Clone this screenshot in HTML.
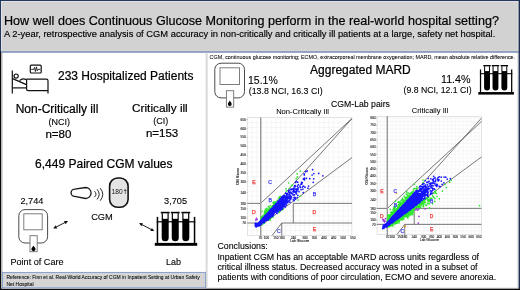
<!DOCTYPE html><html><head><meta charset="utf-8"><style>html,body{margin:0;padding:0;background:#fff}svg{display:block}text{font-family:'Liberation Sans', Arial, sans-serif}</style></head><body>
<svg width="520" height="290" viewBox="0 0 520 290">
<rect x="0" y="0" width="520" height="290" fill="#fff"/>
<rect x="0" y="0" width="520" height="52" fill="#d3d2d2"/>
<rect x="0" y="50.9" width="520" height="2" fill="#8ea0c2"/>
<rect x="205.6" y="52.6" width="2" height="237" fill="#d9d9d9"/>
<rect x="1" y="1" width="517.6" height="0.6" fill="#ededed"/>
<rect x="1" y="1" width="0.6" height="49.5" fill="#ededed"/>
<rect x="517.8" y="1" width="0.7" height="49.5" fill="#ededed"/>
<rect x="0" y="50.3" width="520" height="0.5" fill="#e6e2d8"/>
<rect x="1.3" y="52.8" width="1.6" height="236" fill="#d6d6d6"/>
<rect x="207.6" y="287.6" width="311" height="1.2" fill="#d6d6d6"/>
<rect x="517.3" y="52.8" width="1.3" height="236" fill="#dcdcdc"/>
<rect x="0" y="0" width="520" height="1" fill="#24385f"/>
<rect x="0" y="0" width="1" height="52" fill="#24385f"/>
<rect x="518.6" y="0" width="1.4" height="290" fill="#1f2f50"/>
<rect x="0" y="52" width="1.2" height="238" fill="#0a0a0a"/>
<rect x="0" y="288.7" width="520" height="1.3" fill="#0a0a0a"/>
<text x="4" y="25" font-size="12.6" fill="#000" stroke="#000" stroke-width="0.2">How well does Continuous Glucose Monitoring perform in the real-world hospital setting?</text>
<text x="4" y="36.9" font-size="9.36" fill="#000" stroke="#000" stroke-width="0.15">A 2-year, retrospective analysis of CGM accuracy in non-critically and critically ill patients at a large, safety net hospital.</text>
<text x="58" y="80.2" font-size="12" text-anchor="start" fill="#000" stroke="#000" stroke-width="0.22">233 Hospitalized Patients</text>
<text x="57" y="113.1" font-size="12" text-anchor="middle" fill="#000" stroke="#000" stroke-width="0.22">Non-Critically ill</text>
<text x="59.2" y="125" font-size="9" text-anchor="middle" fill="#000" stroke="#000" stroke-width="0.1">(NCI)</text>
<text x="58.4" y="138.2" font-size="11.5" text-anchor="middle" fill="#000" stroke="#000" stroke-width="0.22">n=80</text>
<text x="159.9" y="111.8" font-size="11.8" text-anchor="middle" fill="#000" stroke="#000" stroke-width="0.22">Critically ill</text>
<text x="160.7" y="124.3" font-size="9" text-anchor="middle" fill="#000" stroke="#000" stroke-width="0.1">(CI)</text>
<text x="162.1" y="137.4" font-size="11.5" text-anchor="middle" fill="#000" stroke="#000" stroke-width="0.22">n=153</text>
<text x="103.8" y="168" font-size="12" text-anchor="middle" fill="#000" stroke="#000" stroke-width="0.22">6,449 Paired CGM values</text>
<text x="31.9" y="203.6" font-size="9.2" text-anchor="middle" fill="#000" stroke="#000" stroke-width="0.1">2,744</text>
<text x="175.6" y="203.6" font-size="9.2" text-anchor="middle" fill="#000" stroke="#000" stroke-width="0.1">3,705</text>
<text x="102" y="219.8" font-size="9.3" text-anchor="middle" fill="#000" stroke="#000" stroke-width="0.1">CGM</text>
<text x="37" y="264.8" font-size="9.1" text-anchor="middle" fill="#000" stroke="#000" stroke-width="0.1">Point of Care</text>
<text x="173.5" y="264.6" font-size="9.0" text-anchor="middle" fill="#000" stroke="#000" stroke-width="0.1">Lab</text>
<g fill="none" stroke="#111" stroke-width="1.2">
<path d="M12.3 70.4V93.4"/>
<path d="M12.3 87.9H26.6"/>
<circle cx="16.1" cy="76.1" r="2.1"/>
<path d="M12.6 78.6L26.4 84.6"/>
<path d="M19.6 80.6Q22.2 77.6 26.4 79.6"/>
<path d="M26.6 79.2H46.4Q48 79.2 48 80.8V93.5"/>
<path d="M26.6 79.2V89.2Q26.6 90.6 28 90.6H48"/>
<rect x="30.3" y="65.1" width="10.9" height="7.9" rx="1" ry="1"/>
<path d="M31.2 69.4H33.7L34.5 67.4L35.4 71.6L36.4 66.9L37.3 70.8L37.9 69.4H40.3" stroke-width="0.85"/>
</g>
<g fill="none" stroke="#1a1a1a">
<path d="M74.7 189.2L85.6 187.5A5.5 5.5 0 0 1 85.6 198.5L74.7 196.4A3.6 3.6 0 0 1 74.7 189.2Z" stroke-width="1.3"/>
<path d="M94.4 191.1Q97.6 194.1 94.4 197.2" stroke-width="0.95"/>
<path d="M97.1 189.3Q101.3 194.3 97.1 199.4" stroke-width="0.95"/>
<path d="M100.2 188.1Q105.4 194.4 100.2 200.7" stroke-width="0.95"/>
<rect x="109.6" y="178" width="18.5" height="29.3" rx="8" ry="8" fill="#e4e4e4" stroke="#111" stroke-width="1.6"/>
</g>
<text x="111.6" y="194.3" font-size="6.6" fill="#111">180<tspan font-family="DejaVu Sans" font-size="6.4">↑</tspan></text>
<rect x="18.80" y="209.60" width="28.80" height="33.40" rx="6.2" ry="6.2" fill="#fff" stroke="#4a4a4a" stroke-width="1.0"/><rect x="23.80" y="213.80" width="18.40" height="16.00" fill="#fff" stroke="#777" stroke-width="0.95"/><rect x="30.00" y="235.70" width="7.20" height="16.00" fill="#fff" stroke="#777" stroke-width="0.95"/><path d="M33.50 245.40C34.00 246.60 35.60 247.70 35.60 249.10A2.10 2.10 0 0 1 31.40 249.10C31.40 247.70 33.00 246.60 33.50 245.40Z" fill="#000"/>
<rect x="214.80" y="63.20" width="29.70" height="34.70" rx="6.2" ry="6.2" fill="#fff" stroke="#4a4a4a" stroke-width="1.0"/><rect x="220.00" y="67.80" width="19.50" height="16.70" fill="#fff" stroke="#777" stroke-width="0.95"/><rect x="226.40" y="90.70" width="7.30" height="16.40" fill="#fff" stroke="#777" stroke-width="0.95"/><path d="M229.80 100.40C230.30 101.60 231.70 102.70 231.70 104.10A1.90 1.90 0 0 1 227.90 104.10C227.90 102.70 229.30 101.60 229.80 100.40Z" fill="#000"/>
<g transform="translate(154.8 211.8) scale(1.0 1.0)"><rect x="0" y="31.1" width="42.4" height="2.9" fill="#000"/><rect x="1.9" y="5.1" width="1.5" height="26.5" fill="#000"/><rect x="39" y="5.1" width="1.5" height="26.5" fill="#000"/><rect x="6.00" y="0" width="8.8" height="1.6" fill="#000"/><path d="M6.90 1.5V25.9A3.5 3.5 0 0 0 13.90 25.9V1.5Z" fill="#000"/><rect x="8.10" y="1.6" width="4.6" height="5.4" fill="#fff"/><rect x="16.05" y="0" width="8.8" height="1.6" fill="#000"/><path d="M16.95 1.5V25.9A3.5 3.5 0 0 0 23.95 25.9V1.5Z" fill="#000"/><rect x="18.15" y="1.6" width="4.6" height="5.4" fill="#fff"/><rect x="26.60" y="0" width="8.8" height="1.6" fill="#000"/><path d="M27.50 1.5V25.9A3.5 3.5 0 0 0 34.50 25.9V1.5Z" fill="#000"/><rect x="28.70" y="1.6" width="4.6" height="5.4" fill="#fff"/><rect x="1.9" y="9.4" width="38.6" height="1.2" fill="#000"/></g>
<g transform="translate(478.3 65.0) scale(0.84 0.87)"><rect x="0" y="31.1" width="42.4" height="2.9" fill="#000"/><rect x="1.9" y="5.1" width="1.5" height="26.5" fill="#000"/><rect x="39" y="5.1" width="1.5" height="26.5" fill="#000"/><rect x="6.00" y="0" width="8.8" height="1.6" fill="#000"/><path d="M6.90 1.5V25.9A3.5 3.5 0 0 0 13.90 25.9V1.5Z" fill="#000"/><rect x="8.10" y="1.6" width="4.6" height="5.4" fill="#fff"/><rect x="16.05" y="0" width="8.8" height="1.6" fill="#000"/><path d="M16.95 1.5V25.9A3.5 3.5 0 0 0 23.95 25.9V1.5Z" fill="#000"/><rect x="18.15" y="1.6" width="4.6" height="5.4" fill="#fff"/><rect x="26.60" y="0" width="8.8" height="1.6" fill="#000"/><path d="M27.50 1.5V25.9A3.5 3.5 0 0 0 34.50 25.9V1.5Z" fill="#000"/><rect x="28.70" y="1.6" width="4.6" height="5.4" fill="#fff"/><rect x="1.9" y="9.4" width="38.6" height="1.2" fill="#000"/></g>
<path d="M55.45 227.36L65.75 222.14" stroke="#111" stroke-width="0.95"/><path d="M68.00 221.00L65.58 224.19L64.00 221.07Z" fill="#111"/><path d="M53.20 228.50L57.20 228.43L55.62 225.31Z" fill="#111"/>
<path d="M141.23 224.27L152.07 229.93" stroke="#111" stroke-width="0.95"/><path d="M154.30 231.10L150.30 230.98L151.92 227.88Z" fill="#111"/><path d="M139.00 223.10L141.38 226.32L143.00 223.22Z" fill="#111"/>
<rect x="2.4" y="272.4" width="203" height="15.4" fill="#d6d5d5" stroke="#7d97c9" stroke-width="0.9"/>
<text x="6.4" y="279.4" font-size="5.0" text-anchor="start" fill="#000" stroke="#000" stroke-width="0.06">Reference: Finn et al. Real-World Accuracy of CGM in Inpatient Setting at Urban Safety</text>
<text x="6.4" y="285.5" font-size="5.0" text-anchor="start" fill="#000" stroke="#000" stroke-width="0.06">Net Hospital</text>
<text x="209.6" y="59.2" font-size="5.4" text-anchor="start" fill="#000" stroke="#000" stroke-width="0.06">CGM, continuous glucose monitoring; ECMO, extracorporeal membrane oxygenation; MARD, mean absolute relative difference.</text>
<text x="360.4" y="73.9" font-size="12" text-anchor="middle" fill="#000" stroke="#000" stroke-width="0.22">Aggregated MARD</text>
<text x="248" y="84.2" font-size="10.5" text-anchor="start" fill="#000" stroke="#000" stroke-width="0.1">15.1%</text>
<text x="248.8" y="94.2" font-size="8.8" text-anchor="start" fill="#000" stroke="#000" stroke-width="0.1">(13.8 NCI, 16.3 CI)</text>
<text x="470.5" y="82.5" font-size="10.7" text-anchor="end" fill="#000" stroke="#000" stroke-width="0.1">11.4%</text>
<text x="471.6" y="93.4" font-size="8.7" text-anchor="end" fill="#000" stroke="#000" stroke-width="0.1">(9.8 NCI, 12.1 CI)</text>
<text x="360.5" y="106.5" font-size="8.7" text-anchor="middle" fill="#000" stroke="#000" stroke-width="0.1">CGM-Lab pairs</text>
<text x="302.5" y="113.5" font-size="7.6" text-anchor="middle" fill="#000" stroke="#000" stroke-width="0.06">Non-Critically Ill</text>
<text x="430" y="112.8" font-size="7.6" text-anchor="middle" fill="#000" stroke="#000" stroke-width="0.06">Critically Ill</text>
<text x="217.4" y="248.9" font-size="8.8" text-anchor="start" fill="#000" stroke="#000" stroke-width="0.1">Conclusions:</text>
<text x="217.4" y="259.7" font-size="8.8" text-anchor="start" fill="#000" stroke="#000" stroke-width="0.1">Inpatient CGM has an acceptable MARD across units regardless of</text>
<text x="217.4" y="269.8" font-size="8.8" text-anchor="start" fill="#000" stroke="#000" stroke-width="0.1">critical illness status. Decreased accuracy was noted in a subset of</text>
<text x="217.4" y="279.9" font-size="8.8" text-anchor="start" fill="#000" stroke="#000" stroke-width="0.1">patients with conditions of poor circulation, ECMO and severe anorexia.</text>
<rect x="247.5" y="117.7" width="104.40" height="117.80" fill="#fff" stroke="#d0d0d0" stroke-width="0.6"/>
<path d="M252.00 117.7V235.5M256.80 117.7V235.5M261.60 117.7V235.5M266.40 117.7V235.5M271.20 117.7V235.5M276.00 117.7V235.5M280.80 117.7V235.5M285.60 117.7V235.5M290.40 117.7V235.5M295.20 117.7V235.5M300.00 117.7V235.5M304.80 117.7V235.5M309.60 117.7V235.5M314.40 117.7V235.5M319.20 117.7V235.5M324.00 117.7V235.5M328.80 117.7V235.5M333.60 117.7V235.5M338.40 117.7V235.5M343.20 117.7V235.5M348.00 117.7V235.5M247.5 230.59H351.9M247.5 225.68H351.9M247.5 220.77H351.9M247.5 215.87H351.9M247.5 210.96H351.9M247.5 206.05H351.9M247.5 201.14H351.9M247.5 196.23H351.9M247.5 191.32H351.9M247.5 186.41H351.9M247.5 181.50H351.9M247.5 176.59H351.9M247.5 171.69H351.9M247.5 166.78H351.9M247.5 161.87H351.9M247.5 156.96H351.9M247.5 152.05H351.9M247.5 147.14H351.9M247.5 142.23H351.9M247.5 137.32H351.9M247.5 132.42H351.9M247.5 127.51H351.9M247.5 122.60H351.9" stroke="#eeeeee" stroke-width="0.5" fill="none"/>
<path d="M247.50 223.00L258.40 223.00M258.40 223.00L351.90 118.69M260.64 220.51L260.64 117.70M247.50 203.37L260.64 203.37M260.64 203.37L351.90 118.53M260.64 235.50L260.64 225.50M260.64 225.50L351.90 157.63M281.76 235.50L281.76 223.00M281.76 223.00L351.90 223.00M293.28 223.00L293.28 203.37M293.28 203.37L351.90 203.37M272.16 235.50L281.76 223.00" stroke="#555" stroke-width="0.8" fill="none"/>
<path d="M260.64 117.7V235.5" stroke="#999" stroke-width="1.3" fill="none"/>
<path d="M264.8 210.9h0M272.3 206.2h0M261.9 218.4h0M270.3 209.2h0M266.8 210.1h0M274.5 203.5h0M262.1 217.5h0M265.7 214.7h0M264.1 214.6h0M270.2 219.9h0M265.4 212.6h0M265.2 211.7h0M268.1 211.2h0M267.6 212.6h0M268.3 206.5h0M263.6 216.2h0M271.3 208.3h0M262.5 218.3h0M262.9 217.9h0M262.9 216.2h0M297.1 173.8h0M275.1 203.4h0M261.7 224.9h0M265.7 214.6h0M266.6 212.0h0M276.7 202.3h0M275.4 203.1h0M260.8 219.6h0M266.1 212.6h0M273.7 205.1h0M269.1 210.1h0M264.2 216.1h0M263.1 217.2h0M271.6 207.1h0M265.3 214.3h0M267.2 212.7h0M268.6 210.0h0M261.0 220.0h0M272.6 206.8h0M265.3 213.9h0M274.5 204.4h0M269.5 208.8h0M262.9 216.8h0M261.9 217.6h0M261.2 217.0h0M270.3 208.8h0M278.7 198.1h0M270.2 205.5h0M269.4 208.7h0M262.1 211.3h0M283.1 209.2h0M275.6 202.0h0M273.0 202.8h0M269.4 220.1h0M265.5 213.5h0M262.5 217.9h0M265.6 214.7h0M261.1 219.5h0M273.8 205.5h0M266.0 214.0h0M264.4 212.9h0M279.5 197.0h0M262.9 217.3h0M266.3 213.0h0M271.4 217.8h0M262.7 216.5h0M272.5 205.7h0M296.3 178.7h0M261.8 218.3h0M268.0 211.9h0M268.2 210.7h0M260.8 220.3h0M268.4 211.1h0M260.8 219.1h0M271.3 207.2h0M260.9 219.7h0M265.5 214.6h0M297.4 176.9h0M268.2 210.3h0M269.0 208.9h0M273.0 206.6h0M264.1 214.9h0M264.5 214.7h0M277.3 200.3h0M265.1 212.1h0M266.4 210.4h0M266.6 212.3h0M272.5 207.3h0M262.3 218.5h0M282.3 209.7h0M263.4 217.1h0M281.9 209.8h0M275.9 203.0h0M262.6 216.2h0M286.0 188.8h0M274.4 204.0h0M267.8 209.8h0M272.5 206.2h0M267.4 211.4h0M264.4 215.3h0M264.3 216.3h0M265.5 209.1h0M261.9 219.0h0M269.3 208.0h0M268.7 210.3h0M265.5 214.9h0M271.4 207.9h0M261.5 216.8h0M271.5 217.5h0M264.4 216.3h0M269.2 209.5h0M266.8 213.4h0M261.0 219.9h0M271.1 208.7h0M265.2 214.3h0M264.6 222.9h0M272.1 206.7h0M279.0 212.0h0M264.6 212.5h0M265.8 213.5h0M267.7 212.4h0M270.9 208.4h0M261.2 219.1h0M275.8 203.1h0M300.4 171.2h0M261.1 219.5h0M266.9 212.9h0M280.5 196.3h0M273.2 217.1h0M288.6 183.0h0M298.1 200.0h0M292.4 185.1h0M265.9 214.1h0M266.0 213.7h0M263.8 223.6h0M268.9 209.3h0M266.3 213.9h0M279.3 198.8h0M267.6 210.7h0M266.5 210.8h0M269.4 219.0h0M269.7 209.5h0M273.9 203.7h0M275.0 202.0h0M261.0 219.3h0M261.1 219.3h0M264.3 215.0h0M300.4 196.0h0M279.0 212.4h0M261.9 218.5h0M265.6 214.6h0M260.8 218.7h0M268.5 219.8h0M265.4 214.7h0M266.5 213.3h0M263.0 217.8h0M269.9 219.3h0M265.3 215.0h0M286.5 191.1h0M268.0 211.4h0M291.5 185.6h0M266.0 214.4h0M279.7 198.0h0M279.4 198.3h0M266.9 212.0h0M263.5 216.1h0M268.1 211.6h0M271.0 207.8h0M270.2 209.8h0M268.0 212.2h0M266.9 208.4h0M267.5 211.1h0M261.9 218.0h0M274.1 201.8h0M265.6 212.5h0M269.3 207.4h0M267.4 212.5h0M265.0 214.7h0M262.9 216.4h0M268.4 210.3h0M266.2 214.2h0M266.6 213.7h0M279.1 198.9h0M263.9 216.4h0M260.6 220.3h0M279.7 211.7h0M264.5 214.9h0M262.7 217.1h0M261.8 218.1h0M289.3 188.3h0M264.0 216.4h0" stroke="#2ee62e" stroke-width="1.7" stroke-linecap="round" fill="none"/>
<path d="M274.8 207.7h0M280.5 204.4h0M274.6 211.8h0M261.5 221.0h0M281.7 202.2h0M275.9 207.4h0M266.6 214.6h0M277.5 206.4h0M275.0 208.1h0M274.2 211.3h0M271.5 214.1h0M277.1 209.5h0M265.1 216.6h0M269.7 211.7h0M267.0 215.9h0M277.7 207.2h0M271.6 210.3h0M268.6 214.7h0M268.9 214.0h0M271.3 213.5h0M268.7 217.2h0M287.5 197.2h0M283.1 197.7h0M255.3 225.6h0M269.6 214.8h0M267.5 215.5h0M273.3 211.9h0M273.4 212.2h0M303.2 192.7h0M262.6 221.2h0M267.8 219.3h0M301.5 182.3h0M278.3 206.6h0M278.5 206.4h0M266.7 217.1h0M272.9 212.9h0M265.5 218.5h0M270.5 212.8h0M263.6 217.4h0M272.1 213.3h0M271.5 212.5h0M277.6 203.4h0M281.5 199.5h0M264.5 216.8h0M279.4 206.4h0M266.8 219.3h0M281.3 199.8h0M262.8 221.0h0M281.8 200.7h0M271.0 216.3h0M261.8 220.7h0M268.4 213.1h0M271.7 215.5h0M274.0 211.1h0M263.4 220.2h0M262.6 219.2h0M273.2 214.7h0M267.1 216.1h0M273.6 206.2h0M279.7 199.3h0M273.8 207.8h0M286.4 200.7h0M268.5 213.9h0M264.6 216.2h0M279.6 204.7h0M273.8 206.0h0M281.5 205.2h0M268.1 215.4h0M260.5 223.4h0M270.2 215.2h0M267.3 213.3h0M279.9 205.4h0M273.1 207.5h0M281.4 206.4h0M278.7 203.4h0M265.8 215.6h0M271.2 209.2h0M275.9 203.7h0M276.1 209.3h0M281.3 209.3h0M273.8 211.7h0M270.3 209.9h0M268.8 216.8h0M283.8 206.3h0M257.0 226.1h0M269.9 216.3h0M271.5 209.4h0M260.8 221.7h0M274.6 210.1h0M281.1 200.3h0M270.0 211.0h0M278.6 208.5h0M286.3 205.1h0M275.2 207.3h0M260.3 221.9h0M295.6 191.9h0M272.6 211.4h0M269.4 217.2h0M280.9 203.0h0M271.5 213.6h0M271.3 210.1h0M276.2 210.1h0M263.1 218.1h0M278.5 205.7h0M291.4 197.0h0M256.1 223.4h0M277.9 204.8h0M313.7 178.8h0M263.3 218.3h0M261.8 219.4h0M277.6 203.6h0M264.3 219.8h0M266.8 215.8h0M276.9 206.8h0M274.0 209.2h0M269.6 213.3h0M264.3 219.1h0M262.7 220.5h0M290.2 199.7h0M270.7 213.2h0M270.7 216.3h0M276.6 210.0h0M267.5 214.1h0M269.1 218.4h0M275.6 212.0h0M274.1 210.1h0M262.3 220.1h0M280.7 203.3h0M266.2 218.1h0M263.9 222.6h0M267.7 214.6h0M293.2 199.8h0M262.2 220.9h0M272.8 210.1h0M271.2 214.1h0M281.6 208.7h0M269.0 211.7h0M265.9 216.3h0M273.5 209.5h0M279.0 203.1h0M278.5 202.7h0M300.0 186.1h0M273.3 214.8h0M266.1 217.6h0M270.0 213.4h0M270.5 215.4h0M272.3 213.7h0M270.9 210.5h0M272.9 210.1h0M259.5 223.7h0M280.6 201.7h0M266.3 216.4h0M262.2 222.0h0M278.2 206.8h0M287.8 202.7h0M276.4 209.7h0M272.8 209.4h0M263.7 220.3h0M322.9 175.8h0M281.3 202.8h0M262.4 221.2h0M264.8 218.0h0M272.0 212.1h0M260.1 221.8h0M272.9 209.4h0M267.2 216.6h0M286.4 201.0h0M282.5 203.0h0M255.3 224.6h0M271.6 208.6h0M259.8 221.5h0M284.6 195.4h0M272.9 208.7h0M277.1 209.9h0M301.0 184.1h0M262.9 221.8h0M265.5 216.3h0M271.0 213.0h0M297.8 190.0h0M263.5 219.8h0M268.5 214.8h0M276.5 208.3h0M269.0 214.5h0M266.4 215.7h0M270.0 218.0h0M262.2 220.7h0M267.3 214.9h0M269.3 215.4h0M268.2 214.7h0M271.8 211.2h0M268.5 213.6h0M279.6 204.6h0M268.3 214.5h0M269.9 216.9h0M265.6 217.2h0M261.7 220.7h0M262.4 219.3h0M265.0 217.0h0M274.9 208.0h0M267.7 215.6h0M257.9 224.0h0M275.6 207.3h0M273.8 208.3h0M279.9 210.0h0M265.3 215.8h0M262.5 219.0h0M272.1 211.5h0M269.5 214.7h0M273.2 209.3h0M259.8 221.7h0M296.7 191.6h0M260.2 222.0h0M277.9 210.6h0M268.0 216.8h0M274.5 212.0h0M268.2 217.7h0M270.6 209.7h0M265.0 219.9h0M278.7 201.6h0M267.1 217.0h0M264.1 219.2h0M272.0 216.0h0M275.9 208.8h0M278.0 204.8h0M259.1 222.9h0M261.1 222.2h0M271.5 211.5h0M270.7 211.9h0M281.6 205.4h0M263.8 220.0h0M265.9 218.8h0M274.6 209.2h0M256.2 225.0h0M265.1 219.4h0M281.1 208.4h0M270.8 215.3h0M278.0 208.4h0M281.0 208.9h0M276.3 206.7h0M263.9 217.3h0M275.8 211.4h0M273.2 214.2h0M265.5 216.8h0M269.1 214.1h0M264.1 218.5h0M283.0 204.7h0M280.0 207.2h0M272.5 211.1h0M273.9 206.4h0M264.7 220.5h0M278.6 204.2h0M296.2 190.9h0M268.4 213.5h0M266.1 220.3h0M269.7 214.1h0M267.0 217.5h0M272.6 211.7h0M268.6 216.2h0M289.9 192.6h0M271.2 210.7h0M282.3 198.7h0M268.5 213.1h0M289.8 198.5h0M265.8 215.7h0M264.6 216.5h0M267.9 214.5h0M270.1 211.1h0M260.9 220.7h0M270.9 213.9h0M259.5 222.6h0M289.1 200.5h0M270.4 214.9h0M265.8 215.4h0M263.9 218.9h0M267.8 213.6h0M269.2 214.3h0M263.0 222.1h0M263.8 219.5h0M266.7 216.7h0M282.1 206.1h0M285.0 198.0h0M271.4 213.9h0M276.2 210.4h0M261.3 223.1h0M278.2 211.6h0M270.9 211.5h0M276.3 207.1h0M292.7 193.8h0M256.8 224.3h0M273.8 211.6h0M262.7 218.9h0M277.6 209.8h0M261.4 222.5h0M266.9 217.1h0M273.2 208.1h0M277.9 204.6h0M271.9 213.9h0M264.7 218.4h0M266.4 216.2h0M281.4 206.4h0M271.1 209.8h0M259.4 223.1h0M280.8 205.4h0M275.5 209.6h0M281.2 208.6h0M268.2 218.5h0M280.6 206.7h0M277.3 205.3h0M266.9 214.7h0M278.6 208.3h0M283.1 203.8h0M265.1 216.6h0M270.7 211.9h0M271.6 214.6h0M285.8 202.2h0M279.1 207.5h0M276.0 210.1h0M279.5 207.0h0M303.3 179.1h0M259.5 222.6h0M266.6 214.0h0M288.1 201.6h0M262.1 219.5h0M276.7 206.5h0M283.3 202.5h0M265.6 217.0h0M277.0 207.0h0M272.3 212.1h0M291.3 189.6h0M271.2 216.2h0M282.9 206.8h0M263.9 219.5h0M269.5 213.1h0M285.1 197.8h0M277.5 207.1h0M265.0 219.0h0M279.9 200.1h0M268.8 217.3h0M259.4 222.3h0M273.1 213.2h0M273.6 210.7h0M264.2 217.6h0M279.5 206.8h0M261.1 222.3h0M266.4 217.2h0M267.0 218.5h0M300.3 187.4h0M259.9 224.3h0M277.3 206.6h0M282.2 204.0h0M275.1 206.1h0M285.7 202.8h0M263.3 221.5h0M256.8 225.7h0M279.8 203.7h0M268.3 218.2h0M262.2 221.3h0M283.8 195.9h0M281.1 201.0h0M265.2 216.0h0M281.6 201.4h0M272.4 210.0h0M269.9 213.5h0M271.8 214.4h0M269.3 213.4h0M277.9 209.7h0M274.4 207.5h0M268.1 219.9h0M266.0 216.1h0M274.1 210.3h0M290.6 199.2h0M266.8 215.2h0M295.4 199.2h0M277.5 208.2h0M271.7 216.2h0M262.6 221.5h0M266.4 216.2h0M265.5 218.7h0M284.3 201.1h0M288.8 197.9h0M281.2 200.6h0M274.9 207.5h0M267.4 217.4h0M271.7 214.6h0M281.4 204.6h0M303.5 186.2h0M281.8 201.7h0M268.7 216.2h0M271.6 212.0h0M267.0 217.9h0M264.8 216.3h0M269.5 213.0h0M273.2 210.9h0M297.2 197.6h0M271.7 209.2h0M288.5 201.0h0M295.9 193.1h0M272.0 211.9h0M292.9 191.3h0M279.1 208.0h0M267.5 216.9h0M273.9 213.8h0M271.4 209.5h0M269.1 214.9h0M269.4 215.0h0M272.6 215.9h0M275.8 209.5h0M264.0 217.4h0M271.1 209.9h0M260.3 222.1h0M273.8 210.3h0M278.0 205.3h0M272.8 215.1h0M274.1 211.7h0M277.6 204.9h0M269.0 217.3h0M276.6 210.6h0M283.0 198.1h0M275.3 209.7h0M313.8 173.6h0M270.3 216.6h0M283.0 198.5h0M287.0 197.3h0M269.9 210.5h0M264.5 219.3h0M262.2 221.3h0M272.8 214.5h0M284.6 205.5h0M274.0 212.4h0M272.9 211.2h0M267.8 217.4h0M277.2 208.0h0M257.4 224.7h0M273.5 209.8h0M271.5 210.3h0M304.5 179.8h0M261.0 221.4h0M262.8 218.1h0M262.0 220.8h0M284.6 204.5h0M264.0 221.3h0M278.6 206.4h0M277.6 206.4h0M261.4 221.9h0M294.1 200.6h0M261.5 219.9h0M269.7 213.5h0M280.4 208.7h0M273.7 213.9h0M282.2 205.4h0M277.3 209.1h0M259.9 225.4h0M291.6 197.5h0M307.2 170.9h0M264.8 221.4h0M271.7 209.2h0M289.2 194.1h0M258.0 224.1h0M261.5 219.8h0M266.2 215.2h0M277.8 203.9h0M273.9 210.3h0M261.8 220.6h0M277.3 208.6h0M298.0 189.3h0M285.9 199.3h0M282.9 204.0h0M282.8 207.7h0M263.5 218.7h0M279.6 201.3h0M270.4 215.3h0M284.9 202.0h0M276.1 207.4h0M286.3 198.0h0M262.5 219.4h0M266.4 218.5h0M264.8 216.8h0M260.4 221.9h0M282.5 201.6h0M287.7 201.5h0M280.3 201.2h0M273.6 211.5h0M270.7 216.0h0M273.6 210.3h0M265.1 219.9h0M281.5 201.2h0M283.7 197.4h0M282.1 200.8h0M266.6 217.0h0M272.0 214.5h0M269.7 214.9h0M273.0 208.5h0M258.5 224.5h0M275.3 211.4h0M298.2 187.7h0M278.8 205.7h0M281.3 203.3h0M271.5 210.2h0M258.1 224.0h0M258.8 225.3h0M270.0 212.0h0M274.4 211.1h0M278.8 205.7h0M268.1 212.8h0M282.4 201.8h0M268.7 215.7h0M265.3 219.7h0M280.9 201.6h0M263.8 220.9h0M255.3 223.7h0M262.9 220.7h0M272.1 213.3h0M260.5 224.9h0M267.1 215.6h0M266.5 220.6h0M286.9 201.3h0M275.1 205.4h0M264.3 218.4h0M279.0 205.1h0M298.4 184.7h0M275.2 209.7h0M274.4 209.9h0M297.7 182.2h0M271.0 211.2h0M260.8 221.0h0M266.7 215.1h0M304.6 178.3h0M272.5 212.7h0M281.4 204.3h0M269.0 216.9h0M279.3 204.6h0M279.2 207.6h0M275.9 212.3h0M294.9 189.0h0M280.0 199.4h0M268.4 217.4h0M264.3 217.4h0M276.2 210.6h0M268.3 216.0h0M318.7 173.4h0M269.2 213.4h0M294.4 194.9h0M267.2 214.3h0M282.3 204.2h0M263.9 219.8h0M267.0 215.1h0M268.1 218.1h0M278.5 205.9h0M272.6 214.4h0M275.4 207.8h0M277.7 205.6h0M271.5 210.3h0M284.6 199.8h0M265.1 217.0h0M260.7 222.1h0M259.0 223.9h0M259.7 223.8h0M266.5 217.5h0M283.4 203.9h0M272.9 210.0h0M266.1 217.4h0M262.8 221.3h0M266.6 215.0h0M267.6 216.7h0M266.3 218.7h0M260.7 222.2h0M267.0 216.0h0M283.3 202.0h0M257.3 223.5h0M257.5 224.1h0M265.0 217.0h0M257.6 223.8h0M272.2 216.5h0M296.9 191.6h0M272.3 209.6h0M285.4 203.3h0M270.5 217.2h0M257.3 226.1h0M276.4 207.9h0M267.5 215.6h0M280.1 206.0h0M274.1 206.8h0M266.7 218.9h0M281.2 204.4h0M278.2 206.7h0M263.7 218.4h0M276.9 210.6h0M262.7 221.0h0M290.7 197.8h0M273.8 212.8h0M289.8 197.8h0M267.0 215.7h0M280.8 202.9h0M255.2 223.5h0M262.9 218.9h0M283.5 202.7h0M276.1 210.2h0M282.7 197.0h0M268.4 212.8h0M261.1 222.4h0M266.5 215.7h0M265.9 216.5h0M258.0 225.5h0M274.1 212.2h0M266.2 215.5h0M264.1 219.6h0M256.7 223.6h0M301.1 189.7h0M262.7 220.5h0M294.3 186.7h0M292.0 193.6h0M274.0 206.1h0M266.3 217.6h0M273.8 206.3h0M271.2 209.5h0M276.9 211.4h0M295.2 185.7h0M267.7 216.1h0M283.6 202.6h0M264.7 219.3h0M264.0 219.5h0M265.9 216.2h0M282.7 203.6h0M287.1 196.7h0M271.0 211.8h0M274.0 211.1h0M266.2 219.3h0M262.3 222.4h0M273.9 211.7h0M277.5 207.5h0M269.5 215.2h0M265.9 219.4h0M266.6 216.8h0M262.8 222.1h0M282.3 207.1h0M277.3 205.0h0M285.7 193.2h0M272.5 210.8h0M261.5 222.8h0M267.8 217.6h0M262.1 220.1h0M275.9 208.3h0M266.0 216.7h0M273.1 214.2h0M260.6 223.0h0M273.0 213.2h0M266.4 217.7h0M272.7 212.2h0M279.7 206.7h0M273.2 207.5h0M293.8 188.4h0M263.2 218.1h0M258.9 223.3h0M281.9 199.2h0M282.1 209.2h0M264.9 217.7h0M270.5 209.8h0M267.9 218.7h0M257.1 225.0h0M268.8 214.3h0M257.4 224.4h0M268.8 213.8h0M290.7 192.0h0M268.5 213.0h0M279.4 206.8h0M263.8 220.6h0M260.2 222.5h0M283.0 196.2h0M270.3 210.6h0M292.4 189.2h0M268.8 215.8h0M271.5 211.8h0M288.7 192.1h0M296.1 181.4h0M265.4 220.3h0M262.2 220.5h0M287.4 193.6h0M269.9 216.3h0M265.4 215.4h0M270.2 214.6h0M255.7 224.7h0M259.0 222.4h0M281.4 197.7h0M274.7 211.4h0M272.2 209.7h0M262.9 219.7h0M276.9 208.8h0M295.1 186.7h0M261.6 221.6h0M270.8 211.1h0M266.9 217.7h0M274.3 212.4h0M270.8 210.8h0M263.7 217.9h0M270.5 214.2h0M265.6 216.2h0M269.4 214.7h0M270.1 214.9h0M277.7 206.2h0M265.8 215.4h0M267.8 212.9h0M283.3 205.7h0M268.4 215.0h0M280.4 209.9h0M273.4 211.7h0M271.6 211.4h0M272.8 213.2h0M261.5 219.9h0M275.5 212.0h0M287.1 193.7h0M276.9 207.0h0M259.8 221.7h0M273.6 206.7h0M263.6 220.7h0M268.7 213.8h0M272.0 210.0h0M261.8 219.6h0M287.4 197.5h0M270.2 210.2h0M279.6 207.0h0M277.6 206.6h0M287.6 201.9h0M285.2 200.9h0M260.3 223.5h0M271.2 214.7h0M257.3 225.0h0M267.0 217.8h0M278.7 203.6h0M281.3 200.1h0M286.8 195.8h0M267.6 213.3h0M274.1 208.4h0M271.8 214.4h0M286.5 204.1h0M291.9 193.0h0M267.7 216.9h0M270.9 214.8h0M267.7 215.0h0M277.3 206.1h0M279.3 209.2h0M276.7 207.0h0M290.0 195.3h0M291.1 196.3h0M288.7 191.1h0M263.3 217.7h0M263.1 218.1h0M273.5 207.2h0M273.7 212.7h0M275.4 211.7h0M289.0 196.5h0M261.2 221.3h0M273.5 210.8h0M269.8 211.4h0M269.2 214.5h0M295.6 182.4h0M287.0 200.8h0M280.7 205.5h0M264.8 216.6h0M305.7 171.7h0M274.8 208.2h0M266.1 216.7h0M268.0 215.7h0M302.9 189.1h0M273.1 211.0h0M271.7 213.5h0M279.3 208.4h0M262.8 221.6h0M262.4 219.0h0M277.7 205.5h0M264.1 220.2h0M280.6 206.8h0M284.6 203.6h0M258.9 223.4h0M269.8 215.5h0M270.5 212.0h0M281.6 197.8h0M296.3 189.4h0M268.3 212.7h0M262.1 221.4h0M269.9 216.9h0M279.9 203.1h0M260.9 222.5h0M261.0 222.4h0M285.8 198.8h0M272.6 211.2h0M267.3 216.1h0M283.3 203.3h0M261.4 221.1h0M267.6 214.1h0M297.1 188.9h0M269.9 213.2h0M288.2 198.3h0M272.9 215.4h0M268.8 212.3h0M271.8 214.9h0M267.4 217.0h0M264.3 222.4h0M260.3 222.8h0M275.1 208.0h0M279.3 204.8h0M258.8 222.7h0M280.0 202.4h0M270.8 211.7h0M260.6 222.0h0M271.9 213.9h0M280.2 201.4h0M276.5 209.7h0M281.9 200.8h0M281.2 201.9h0M270.7 209.4h0M257.5 224.3h0M264.8 217.8h0M274.6 209.4h0M266.9 216.7h0M278.5 204.9h0M279.9 206.6h0M271.5 214.7h0M297.7 189.9h0M263.3 218.4h0M281.8 202.3h0M266.9 214.4h0M277.3 206.6h0M280.8 205.1h0M262.1 220.0h0M271.4 209.6h0M264.2 219.9h0M268.9 213.7h0M267.7 213.7h0M262.4 221.7h0M278.2 208.8h0M261.7 221.3h0M263.3 219.2h0M281.2 200.9h0M282.4 207.5h0M278.3 201.2h0M274.5 207.6h0M306.5 178.3h0M261.9 223.7h0M264.9 216.0h0M263.2 220.1h0M281.3 200.1h0M273.9 210.4h0M284.4 202.7h0M282.4 205.5h0M269.0 214.4h0M264.4 216.5h0M263.2 221.3h0M305.0 187.2h0M282.3 203.0h0M277.4 207.7h0M268.0 215.4h0M269.2 215.2h0M268.0 214.6h0M268.2 219.2h0M256.3 223.9h0M270.5 216.1h0M274.0 207.3h0M273.1 215.4h0M280.8 203.9h0M280.0 199.8h0M255.8 225.4h0M262.6 220.6h0M294.8 185.7h0M261.9 222.8h0M268.5 218.0h0M278.9 202.7h0M264.0 220.1h0M279.1 203.2h0M260.7 222.5h0M258.3 224.1h0M259.5 222.3h0M270.9 210.8h0M268.2 215.5h0M274.4 210.5h0M263.0 218.8h0M313.2 182.3h0M270.2 212.2h0M270.6 211.1h0M268.9 213.7h0M265.7 217.6h0M271.9 210.2h0M281.7 197.2h0M278.3 210.1h0M282.0 197.1h0M266.2 218.2h0M264.7 219.7h0M268.9 211.6h0M276.1 209.0h0M279.3 201.2h0M289.4 190.5h0M267.3 215.0h0M268.4 214.1h0M256.3 225.9h0M270.2 215.2h0M274.1 210.1h0M276.8 211.2h0M277.6 204.8h0M262.0 220.5h0M282.2 198.1h0M264.1 217.2h0M261.8 221.6h0M263.4 222.5h0M264.2 220.3h0M272.8 210.8h0M257.5 223.7h0M266.5 214.9h0M281.5 202.2h0M276.5 205.3h0M260.3 222.4h0M282.3 207.3h0M273.1 210.7h0M276.6 209.3h0M281.3 203.7h0M266.0 217.2h0M267.0 213.9h0M285.5 196.7h0M271.2 210.8h0M270.0 212.3h0M260.9 222.5h0M272.7 210.5h0M278.3 203.0h0M264.7 218.3h0M266.8 220.2h0M273.0 210.9h0M268.6 212.7h0M262.4 220.4h0M268.9 215.0h0M288.7 190.6h0M296.4 193.9h0M268.0 214.2h0M280.8 207.2h0M269.0 212.7h0M264.4 217.1h0M270.0 214.2h0M275.9 210.8h0M259.3 224.5h0M270.2 210.5h0M267.6 216.5h0M279.4 203.4h0M267.9 215.6h0M271.6 215.4h0M269.2 215.1h0M291.2 198.0h0M263.9 218.1h0M287.4 201.1h0M264.2 220.3h0M269.7 212.1h0M275.0 210.8h0M301.8 183.9h0M281.5 201.1h0M287.6 199.3h0M269.2 214.7h0M264.7 218.9h0M275.9 203.8h0M272.1 210.6h0M282.3 201.9h0M275.2 207.5h0M278.1 205.6h0M274.0 213.2h0M270.9 215.3h0M265.4 218.7h0M281.7 202.2h0M272.6 213.4h0M276.5 210.2h0M268.1 213.0h0M271.3 213.0h0M263.0 220.6h0M272.0 212.2h0M279.8 207.5h0M272.1 209.0h0M281.0 198.1h0M274.4 205.7h0M288.6 190.9h0M275.7 208.4h0M263.5 220.1h0M278.3 203.1h0M275.9 206.1h0M268.2 214.6h0M273.2 211.2h0M273.8 209.0h0M296.0 192.9h0M265.5 219.4h0M271.1 210.6h0M304.3 175.0h0M259.0 222.8h0M277.4 207.0h0M264.3 218.9h0M264.9 216.4h0M263.9 219.5h0M280.0 205.8h0M277.7 208.6h0M274.4 206.6h0M301.0 184.3h0M267.1 215.6h0M287.0 194.3h0M281.4 200.6h0M268.6 215.5h0M291.1 193.5h0M267.1 214.6h0M281.4 200.1h0M284.7 201.8h0M270.9 212.8h0M268.8 213.8h0M285.7 193.1h0M312.6 169.7h0M258.7 225.9h0M281.8 202.3h0M271.3 210.4h0M262.6 218.3h0M272.9 211.7h0M265.1 218.4h0M266.9 214.4h0M266.3 214.9h0M273.1 210.7h0M269.7 213.3h0M278.4 207.8h0M291.6 189.0h0M264.9 217.5h0M283.8 202.0h0M268.2 214.7h0M272.6 212.8h0M262.4 218.8h0M276.6 207.8h0M267.2 216.3h0M274.5 209.7h0M266.2 217.2h0M267.2 218.6h0M277.7 202.5h0M271.8 209.0h0M262.1 219.1h0M268.5 215.1h0M278.3 208.9h0M297.9 195.3h0M262.4 221.2h0M274.7 208.5h0M268.8 212.2h0M280.6 202.3h0M275.9 204.9h0M290.4 189.3h0M276.7 209.4h0M266.5 217.2h0M275.4 210.3h0M275.3 205.9h0M309.8 178.7h0M294.1 197.4h0M262.2 219.4h0M274.8 208.1h0M261.3 221.0h0M259.6 225.1h0M279.5 203.8h0M277.1 205.9h0M293.5 190.1h0M263.4 219.6h0M262.2 222.1h0M278.4 206.4h0M273.4 206.3h0M269.7 212.5h0M270.6 215.3h0M273.4 214.7h0M269.6 211.6h0M261.2 224.0h0M277.8 208.0h0M277.0 213.3h0M274.1 206.4h0M302.3 182.5h0M278.9 204.1h0M297.3 186.2h0M279.6 208.0h0M270.1 216.5h0M264.3 220.9h0M262.6 219.3h0M276.4 204.1h0M276.1 210.3h0M269.6 212.8h0M280.9 202.5h0M284.6 196.6h0M271.6 210.3h0M270.9 214.6h0M271.2 213.2h0M270.3 211.0h0M312.1 175.0h0M273.0 212.0h0M286.7 193.6h0M279.2 205.6h0M268.5 213.4h0M295.3 199.2h0M262.9 218.5h0M261.4 221.6h0M277.3 202.2h0M256.5 225.2h0M281.4 197.4h0M273.0 211.4h0M295.2 197.6h0M280.1 205.8h0M279.5 203.3h0M258.2 225.6h0M280.3 198.9h0M290.8 192.3h0M286.2 200.4h0M280.1 210.6h0M271.2 213.8h0M277.7 203.7h0M275.2 211.5h0M273.6 213.2h0M268.4 215.0h0M294.2 198.1h0M262.2 222.3h0M266.2 216.5h0M283.5 199.3h0M289.7 198.0h0M286.7 194.2h0M279.7 201.0h0M260.9 221.9h0M302.4 187.1h0M276.7 208.6h0M271.4 212.2h0M268.2 216.8h0M275.6 204.0h0M274.4 208.3h0M255.8 223.7h0M270.9 211.0h0M276.2 205.0h0M276.8 207.4h0M269.8 211.1h0M276.0 205.2h0M283.4 200.3h0M267.1 215.7h0M290.3 196.2h0M261.7 220.0h0M263.9 219.4h0M256.2 223.9h0M263.3 219.3h0M286.7 194.8h0M286.6 198.4h0M272.2 213.5h0M295.0 188.9h0M273.6 213.2h0M273.6 211.9h0M269.9 213.9h0M279.4 199.8h0M260.4 221.7h0M283.0 204.9h0M267.2 216.3h0M281.0 199.3h0M260.2 224.0h0M272.0 210.0h0M281.6 202.9h0M294.0 192.2h0M276.3 209.2h0M266.6 218.8h0M286.3 204.2h0M272.2 210.7h0M285.3 206.9h0M308.0 188.2h0M279.8 210.0h0M266.6 216.8h0M267.4 217.4h0M277.5 207.2h0M264.4 217.7h0M278.5 205.8h0M308.6 186.0h0M255.6 226.2h0M279.3 206.6h0M269.3 214.0h0M280.0 201.3h0M281.2 203.2h0M271.7 212.2h0M263.2 220.7h0M260.9 221.3h0M258.5 223.6h0M286.3 202.3h0M266.5 214.6h0M268.7 217.0h0M261.2 220.3h0M274.3 209.2h0M287.9 197.9h0M285.0 203.0h0M260.0 221.3h0M288.6 197.3h0M264.9 216.9h0M261.9 220.7h0M263.5 218.7h0M271.1 212.8h0M263.1 221.1h0M260.3 222.8h0M268.8 213.9h0M299.0 191.7h0M265.3 219.7h0M276.1 211.3h0M272.0 211.7h0M284.4 206.1h0M261.6 221.5h0M266.1 214.9h0M270.3 214.6h0M264.9 218.3h0M258.5 224.5h0M287.5 198.2h0M264.4 217.9h0M269.0 215.2h0M271.0 211.6h0M272.1 208.3h0M269.6 212.4h0M273.9 212.6h0M275.2 208.3h0M281.0 200.4h0M277.6 207.7h0M270.8 211.3h0M277.1 204.5h0M277.0 206.4h0M294.3 190.9h0M273.3 212.7h0M279.6 203.2h0M262.0 220.8h0M262.8 219.8h0M262.0 221.0h0M278.8 204.3h0M261.3 221.3h0M271.9 214.1h0M256.2 227.0h0M262.6 219.9h0M268.2 215.1h0M268.8 217.6h0M258.9 224.2h0M272.3 212.9h0M282.6 205.2h0M278.3 207.2h0M265.6 216.6h0M262.1 219.8h0M278.1 201.2h0M289.9 202.2h0M259.4 222.4h0M273.2 207.4h0M255.3 225.7h0M272.6 210.4h0M304.2 173.9h0M280.5 206.0h0M277.1 203.4h0M275.4 207.1h0M283.9 199.3h0M263.7 219.8h0M264.3 217.3h0M275.4 207.0h0M265.4 217.3h0M273.8 209.5h0M258.4 224.3h0M279.7 200.8h0M280.9 205.2h0M271.6 210.9h0M272.8 212.2h0M293.1 194.9h0M262.8 220.7h0M262.7 221.4h0M267.5 216.4h0M263.2 219.3h0M271.6 214.5h0M265.7 219.8h0M286.2 196.2h0M270.5 210.5h0M269.1 215.8h0M271.5 214.4h0M270.4 210.7h0M277.3 206.3h0M266.2 214.8h0M263.8 221.6h0M257.9 224.2h0M264.3 218.6h0M264.7 221.2h0M274.6 211.8h0M276.9 209.2h0M275.2 206.3h0M287.0 196.5h0M304.3 178.2h0M288.4 194.8h0M262.3 218.8h0" stroke="#1414ff" stroke-width="1.7" stroke-linecap="round" fill="none"/>
<path d="M256.4 218.4h0M257.2 219.4h0M255.8 220.1h0" stroke="#9b30d9" stroke-width="1.7" stroke-linecap="round" fill="none"/>
<text x="253.9" y="183.8" fill="#f03a3a" font-size="5.2" text-anchor="middle" stroke="#f03a3a" stroke-width="0.25">E</text>
<text x="270.2" y="183.8" fill="#3c3cf0" font-size="5.2" text-anchor="middle" stroke="#3c3cf0" stroke-width="0.25">C</text>
<text x="270.2" y="201.7" fill="#3c3cf0" font-size="5.2" text-anchor="middle" stroke="#3c3cf0" stroke-width="0.25">B</text>
<text x="253.9" y="214.2" fill="#f03a3a" font-size="5.2" text-anchor="middle" stroke="#f03a3a" stroke-width="0.25">D</text>
<text x="314.4" y="196.3" fill="#3c3cf0" font-size="5.2" text-anchor="middle" stroke="#3c3cf0" stroke-width="0.25">B</text>
<text x="314.4" y="214.2" fill="#f03a3a" font-size="5.2" text-anchor="middle" stroke="#f03a3a" stroke-width="0.25">D</text>
<text x="314.4" y="231.2" fill="#f03a3a" font-size="5.2" text-anchor="middle" stroke="#f03a3a" stroke-width="0.25">E</text>
<text x="278.9" y="232.9" fill="#3c3cf0" font-size="5.2" text-anchor="middle" stroke="#3c3cf0" stroke-width="0.25">C</text>
<text x="245.9" y="224.1" font-size="3.2" text-anchor="end" fill="#111" stroke="#111" stroke-width="0.08">70</text>
<path d="M246.4 223.00H247.5" stroke="#666" stroke-width="0.4"/>
<text x="245.9" y="218.8" font-size="3.2" text-anchor="end" fill="#111" stroke="#111" stroke-width="0.08">100</text>
<path d="M246.4 217.65H247.5" stroke="#666" stroke-width="0.4"/>
<text x="245.9" y="209.8" font-size="3.2" text-anchor="end" fill="#111" stroke="#111" stroke-width="0.08">150</text>
<path d="M246.4 208.72H247.5" stroke="#666" stroke-width="0.4"/>
<text x="245.9" y="204.5" font-size="3.2" text-anchor="end" fill="#111" stroke="#111" stroke-width="0.08">180</text>
<path d="M246.4 203.37H247.5" stroke="#666" stroke-width="0.4"/>
<text x="245.9" y="193.8" font-size="3.2" text-anchor="end" fill="#111" stroke="#111" stroke-width="0.08">240</text>
<path d="M246.4 192.66H247.5" stroke="#666" stroke-width="0.4"/>
<text x="245.9" y="183.0" font-size="3.2" text-anchor="end" fill="#111" stroke="#111" stroke-width="0.08">300</text>
<path d="M246.4 181.95H247.5" stroke="#666" stroke-width="0.4"/>
<text x="245.9" y="174.1" font-size="3.2" text-anchor="end" fill="#111" stroke="#111" stroke-width="0.08">350</text>
<path d="M246.4 173.03H247.5" stroke="#666" stroke-width="0.4"/>
<text x="245.9" y="165.2" font-size="3.2" text-anchor="end" fill="#111" stroke="#111" stroke-width="0.08">400</text>
<path d="M246.4 164.10H247.5" stroke="#666" stroke-width="0.4"/>
<text x="245.9" y="156.3" font-size="3.2" text-anchor="end" fill="#111" stroke="#111" stroke-width="0.08">450</text>
<path d="M246.4 155.18H247.5" stroke="#666" stroke-width="0.4"/>
<text x="245.9" y="147.3" font-size="3.2" text-anchor="end" fill="#111" stroke="#111" stroke-width="0.08">500</text>
<path d="M246.4 146.25H247.5" stroke="#666" stroke-width="0.4"/>
<text x="245.9" y="138.4" font-size="3.2" text-anchor="end" fill="#111" stroke="#111" stroke-width="0.08">550</text>
<path d="M246.4 137.32H247.5" stroke="#666" stroke-width="0.4"/>
<text x="245.9" y="129.5" font-size="3.2" text-anchor="end" fill="#111" stroke="#111" stroke-width="0.08">600</text>
<path d="M246.4 128.40H247.5" stroke="#666" stroke-width="0.4"/>
<text x="245.9" y="120.6" font-size="3.2" text-anchor="end" fill="#111" stroke="#111" stroke-width="0.08">650</text>
<path d="M246.4 119.48H247.5" stroke="#666" stroke-width="0.4"/>
<text x="260.6" y="238.6" font-size="3.2" text-anchor="middle" fill="#111" stroke="#111" stroke-width="0.08">70</text>
<text x="266.4" y="238.6" font-size="3.2" text-anchor="middle" fill="#111" stroke="#111" stroke-width="0.08">100</text>
<text x="276.0" y="238.6" font-size="3.2" text-anchor="middle" fill="#111" stroke="#111" stroke-width="0.08">150</text>
<text x="281.8" y="238.6" font-size="3.2" text-anchor="middle" fill="#111" stroke="#111" stroke-width="0.08">180</text>
<text x="293.3" y="238.6" font-size="3.2" text-anchor="middle" fill="#111" stroke="#111" stroke-width="0.08">240</text>
<text x="304.8" y="238.6" font-size="3.2" text-anchor="middle" fill="#111" stroke="#111" stroke-width="0.08">300</text>
<text x="314.4" y="238.6" font-size="3.2" text-anchor="middle" fill="#111" stroke="#111" stroke-width="0.08">350</text>
<text x="324.0" y="238.6" font-size="3.2" text-anchor="middle" fill="#111" stroke="#111" stroke-width="0.08">400</text>
<text x="333.6" y="238.6" font-size="3.2" text-anchor="middle" fill="#111" stroke="#111" stroke-width="0.08">450</text>
<text x="343.2" y="238.6" font-size="3.2" text-anchor="middle" fill="#111" stroke="#111" stroke-width="0.08">500</text>
<text x="352.8" y="238.6" font-size="3.2" text-anchor="middle" fill="#111" stroke="#111" stroke-width="0.08">550</text>
<text x="299.7" y="241.9" font-size="3.4" text-anchor="middle" fill="#111" stroke="#111" stroke-width="0.08">Lab Glucose</text>
<text transform="translate(238.8 176.5) rotate(-90)" font-size="2.7" text-anchor="middle" fill="#111" stroke="#111" stroke-width="0.08">CGM Glucose</text>
<rect x="377.1" y="116.4" width="104.40" height="118.00" fill="#fff" stroke="#d0d0d0" stroke-width="0.6"/>
<path d="M380.25 116.4V234.4M384.20 116.4V234.4M388.15 116.4V234.4M392.10 116.4V234.4M396.05 116.4V234.4M400.00 116.4V234.4M403.95 116.4V234.4M407.90 116.4V234.4M411.85 116.4V234.4M415.80 116.4V234.4M419.75 116.4V234.4M423.70 116.4V234.4M427.65 116.4V234.4M431.60 116.4V234.4M435.55 116.4V234.4M439.50 116.4V234.4M443.45 116.4V234.4M447.40 116.4V234.4M451.35 116.4V234.4M455.30 116.4V234.4M459.25 116.4V234.4M463.20 116.4V234.4M467.15 116.4V234.4M471.10 116.4V234.4M475.05 116.4V234.4M479.00 116.4V234.4M377.1 230.95H481.5M377.1 227.31H481.5M377.1 223.66H481.5M377.1 220.02H481.5M377.1 216.38H481.5M377.1 212.73H481.5M377.1 209.08H481.5M377.1 205.44H481.5M377.1 201.79H481.5M377.1 198.15H481.5M377.1 194.50H481.5M377.1 190.86H481.5M377.1 187.21H481.5M377.1 183.57H481.5M377.1 179.92H481.5M377.1 176.28H481.5M377.1 172.63H481.5M377.1 168.99H481.5M377.1 165.34H481.5M377.1 161.70H481.5M377.1 158.06H481.5M377.1 154.41H481.5M377.1 150.76H481.5M377.1 147.12H481.5M377.1 143.47H481.5M377.1 139.83H481.5M377.1 136.19H481.5M377.1 132.54H481.5M377.1 128.89H481.5M377.1 125.25H481.5M377.1 121.60H481.5M377.1 117.96H481.5" stroke="#eeeeee" stroke-width="0.5" fill="none"/>
<path d="M377.10 224.39L385.52 224.39M385.52 224.39L481.50 118.11M387.36 222.35L387.36 116.40M377.10 208.36L387.36 208.36M387.36 208.36L481.50 121.49M387.36 234.60L387.36 226.44M387.36 226.44L481.50 156.94M404.74 234.60L404.74 224.39M404.74 224.39L481.50 224.39M414.22 224.39L414.22 208.36M414.22 208.36L481.50 208.36M396.84 234.60L404.74 224.39" stroke="#555" stroke-width="0.8" fill="none"/>
<path d="M387.36 116.4V234.4" stroke="#999" stroke-width="1.3" fill="none"/>
<path d="M393.6 212.4h0M404.7 200.7h0M409.5 210.8h0M403.4 215.5h0M392.1 223.2h0M409.5 197.5h0M407.9 214.2h0M425.0 199.7h0M387.5 218.3h0M389.7 219.5h0M402.7 215.3h0M397.5 210.9h0M398.4 206.0h0M399.0 208.3h0M389.2 225.3h0M399.0 218.6h0M396.2 211.2h0M394.2 213.6h0M407.0 200.4h0M396.0 210.9h0M426.4 205.4h0M391.9 217.2h0M392.5 222.7h0M410.3 211.5h0M392.4 213.7h0M393.9 213.6h0M394.4 211.4h0M390.1 217.4h0M395.0 212.6h0M399.1 219.8h0M416.5 208.3h0M405.8 198.8h0M392.6 214.7h0M396.6 211.6h0M423.5 199.9h0M410.9 210.6h0M412.3 209.1h0M401.0 217.5h0M428.2 197.5h0M388.2 221.3h0M397.2 220.3h0M417.2 204.8h0M390.4 224.4h0M435.8 193.0h0M388.9 220.5h0M393.7 215.0h0M390.7 214.6h0M426.2 198.5h0M399.5 220.0h0M390.2 217.0h0M388.9 220.5h0M392.4 212.4h0M418.6 206.9h0M391.8 214.6h0M405.3 213.7h0M402.7 217.2h0M391.2 217.7h0M408.4 195.7h0M416.9 188.5h0M399.6 217.7h0M399.1 218.3h0M390.7 217.2h0M401.0 202.7h0M407.5 212.7h0M396.3 212.3h0M395.5 220.6h0M391.9 224.3h0M399.4 208.5h0M411.8 212.3h0M391.5 214.7h0M400.8 205.4h0M395.7 212.0h0M392.3 213.5h0M395.2 221.5h0M393.7 213.4h0M389.6 219.2h0M401.8 216.2h0M389.8 219.3h0M392.6 216.3h0M390.8 217.5h0M394.2 213.5h0M395.3 220.6h0M392.5 214.4h0M389.2 219.5h0M390.6 217.9h0M403.9 200.1h0M419.8 203.8h0M402.5 217.9h0M401.1 204.3h0M412.0 208.9h0M409.4 214.0h0M393.7 215.3h0M397.9 210.5h0M404.9 214.3h0M393.1 222.6h0M407.8 211.9h0M408.8 213.1h0M391.4 215.6h0M409.9 211.5h0M408.2 199.0h0M398.8 208.5h0M389.2 216.8h0M414.0 207.5h0M392.4 215.9h0M388.6 219.9h0M403.2 218.0h0M403.5 200.9h0M408.5 214.8h0M400.3 218.7h0M395.0 223.1h0M394.2 210.2h0M395.6 210.0h0M406.2 194.2h0M421.2 202.2h0M399.8 206.4h0M420.0 208.2h0M388.4 221.2h0M392.9 212.8h0M398.5 208.5h0M389.0 219.9h0M398.1 218.5h0M401.9 216.4h0M421.1 202.3h0M388.0 220.4h0M387.7 221.9h0M425.9 204.9h0M398.3 206.6h0M396.1 211.7h0M394.6 222.1h0M396.8 209.1h0M402.0 216.0h0M401.4 217.8h0M403.1 216.8h0M394.9 212.6h0M393.7 214.8h0M391.4 216.1h0M419.7 202.6h0M408.2 193.1h0M402.9 202.7h0M396.6 211.1h0M401.6 216.9h0M395.7 222.1h0M389.7 218.4h0M398.2 209.6h0M398.4 210.1h0M416.5 188.6h0M412.9 209.8h0M402.8 217.7h0M407.6 214.8h0M399.0 209.4h0M390.1 219.2h0M397.7 219.2h0M397.7 208.4h0M394.5 221.3h0M410.1 209.8h0M424.7 199.7h0M406.3 200.8h0M411.6 192.5h0M399.7 207.0h0M398.6 209.9h0M410.6 211.2h0M406.0 213.1h0M396.8 211.0h0M389.6 219.3h0M388.9 218.4h0M395.1 223.4h0M407.1 212.9h0M395.4 201.2h0M400.7 218.4h0M409.6 211.3h0M401.5 217.5h0M393.2 215.1h0M389.2 225.9h0M402.8 203.5h0M399.2 221.0h0M403.1 215.8h0M412.8 208.3h0M387.8 215.4h0M404.6 215.7h0M402.8 217.8h0M423.9 203.8h0M400.9 206.5h0M411.3 209.4h0M388.4 220.3h0M402.7 218.1h0M391.6 217.4h0M413.9 209.4h0M398.1 220.5h0M406.8 212.6h0M390.5 218.6h0M406.6 200.8h0M396.7 209.5h0M409.7 210.3h0M395.6 212.9h0M403.9 199.9h0M394.2 221.7h0M400.8 217.9h0M389.7 219.7h0M420.8 204.0h0M407.9 211.4h0M398.6 219.2h0M410.6 210.3h0M393.8 215.0h0M411.7 208.6h0M429.6 201.5h0M398.7 208.7h0M389.9 225.0h0M391.9 217.0h0M408.8 211.3h0M399.4 217.8h0M396.9 211.1h0M406.0 213.8h0M408.6 211.6h0M402.2 216.0h0M398.3 207.1h0M400.8 217.2h0M395.3 212.8h0M402.7 216.3h0M391.9 217.2h0M403.2 216.4h0M401.7 205.8h0M411.3 210.0h0M390.4 218.8h0M417.9 208.3h0M389.4 216.8h0M408.3 215.0h0M408.7 213.3h0M388.9 220.5h0M403.0 204.1h0M428.6 197.2h0M401.6 217.3h0M395.5 220.7h0M407.3 212.0h0M396.1 210.0h0M408.6 211.5h0M391.3 217.5h0M420.7 202.6h0M393.9 211.5h0M392.2 215.1h0M399.7 202.2h0M397.3 220.0h0M388.7 226.7h0M394.6 221.7h0M403.2 215.7h0M406.0 213.7h0M396.8 210.0h0M393.6 223.3h0M388.7 219.8h0M409.6 213.9h0M406.9 213.5h0M401.6 204.6h0M409.5 197.3h0M399.7 206.8h0M403.2 202.7h0M393.7 215.2h0M396.0 211.9h0M404.6 215.3h0M387.5 221.4h0M398.4 218.8h0M392.7 215.2h0M393.8 221.8h0M423.3 204.5h0M400.0 217.7h0M391.5 216.2h0M399.0 219.7h0M408.2 214.1h0M392.3 216.1h0M398.0 202.5h0M403.8 201.8h0M391.7 216.4h0M388.7 219.8h0M398.1 221.1h0M391.6 223.7h0M394.6 212.7h0M394.2 221.4h0M390.4 218.2h0M398.1 218.8h0M396.4 210.7h0M417.6 207.3h0M401.2 205.1h0M397.0 220.2h0M390.8 218.1h0M406.8 216.2h0M414.4 188.5h0M403.5 202.7h0M390.9 215.8h0M420.0 207.1h0M400.8 202.2h0M393.6 214.9h0M403.8 219.3h0M401.7 219.0h0M427.6 203.4h0M396.3 211.7h0M396.3 209.5h0M432.6 203.7h0M397.5 222.6h0M392.6 214.6h0M427.6 200.5h0M405.8 214.9h0M415.9 188.6h0M388.5 220.4h0M399.5 217.9h0M398.7 207.5h0M388.0 221.6h0M405.5 214.7h0M407.2 212.8h0M394.7 221.9h0M398.4 218.6h0M394.7 208.4h0M418.3 206.9h0M397.0 210.9h0M401.8 217.8h0M402.6 204.8h0M421.5 204.3h0M399.3 221.3h0M399.4 208.8h0M402.7 215.1h0M412.4 193.6h0M408.1 214.8h0M408.1 216.3h0M401.5 216.4h0M416.8 207.0h0M390.7 217.3h0M412.4 213.0h0M399.0 218.1h0M402.3 204.6h0M399.7 220.3h0M403.9 216.8h0M391.6 216.6h0M403.2 202.1h0M422.7 202.0h0M402.1 205.1h0M391.4 215.7h0M387.4 221.2h0M398.8 218.4h0M406.0 197.5h0M400.5 207.0h0M400.1 206.5h0M396.2 210.4h0M397.5 220.1h0M402.2 218.3h0M393.2 214.8h0M395.3 211.6h0M388.7 218.9h0M394.1 214.9h0M412.6 214.5h0M395.9 220.2h0M403.9 214.7h0M391.7 216.1h0M394.4 223.6h0M407.4 196.1h0M407.5 217.6h0M394.6 211.8h0M400.6 217.8h0M405.9 216.1h0M419.3 203.1h0M395.8 211.7h0M394.7 213.3h0M420.0 203.2h0M421.7 201.2h0M413.0 208.7h0M403.7 216.9h0M389.8 218.8h0M403.5 216.0h0M391.2 217.5h0M401.1 200.5h0M401.3 205.2h0M412.5 210.0h0M406.5 213.4h0M419.3 207.5h0M407.8 216.1h0M403.8 215.8h0M411.6 211.7h0M434.7 201.4h0M387.8 226.2h0M388.2 221.1h0M406.4 214.6h0M392.9 214.7h0M404.6 216.8h0M399.8 208.0h0M397.9 220.6h0M393.0 222.8h0M416.9 206.2h0M390.3 217.7h0M395.5 220.8h0M405.1 217.0h0M399.8 219.1h0M407.1 198.4h0M389.4 219.9h0M400.5 204.7h0M401.2 216.7h0M413.1 208.3h0M407.6 195.8h0M398.0 209.4h0M389.7 218.4h0M421.2 204.6h0M399.9 206.3h0M412.5 209.0h0M407.3 196.8h0M396.5 211.6h0M412.5 191.5h0M388.5 220.9h0M427.6 199.4h0M389.2 218.6h0M408.5 212.9h0M399.5 207.5h0M396.7 211.4h0M403.1 218.4h0M399.3 207.3h0M402.2 216.1h0M402.0 199.9h0M404.2 200.2h0M407.7 213.4h0M394.7 212.2h0M407.4 212.7h0M407.9 213.8h0M410.0 193.8h0M390.2 215.4h0M401.9 205.1h0M400.5 206.4h0M396.4 221.5h0M393.9 214.4h0M408.7 193.3h0M396.2 212.0h0M410.1 211.2h0M402.7 204.2h0M405.3 200.7h0M411.9 211.1h0M412.2 192.8h0M410.5 214.1h0M449.6 182.2h0M401.3 218.2h0M396.2 209.4h0M397.9 209.9h0M390.6 212.5h0M413.4 207.3h0M392.2 213.2h0M412.8 193.8h0M408.7 214.2h0M403.9 202.6h0M392.0 223.1h0M398.2 202.5h0M402.6 216.5h0M401.5 206.5h0M398.6 204.9h0M392.6 215.9h0M424.8 201.8h0M415.3 207.5h0M416.8 204.7h0M389.8 219.4h0M405.5 213.1h0M412.9 214.6h0M409.6 210.9h0M397.4 219.6h0M393.2 209.7h0M387.6 221.2h0M406.1 213.9h0M389.7 218.7h0M405.3 215.0h0M403.3 215.4h0M399.9 206.9h0M405.7 216.5h0M401.4 216.5h0M390.5 218.3h0M404.0 216.0h0M406.0 213.1h0M399.1 208.4h0M394.1 223.9h0M428.5 201.4h0M414.2 209.2h0M397.3 208.7h0M408.5 211.2h0M395.7 210.9h0M413.8 212.0h0M407.9 197.5h0M388.4 220.2h0M394.3 212.6h0M391.9 215.6h0M409.2 195.5h0M401.1 217.7h0M389.9 225.6h0M388.1 217.2h0M406.8 191.9h0M408.7 215.1h0M419.3 203.2h0M389.7 217.8h0M405.0 216.4h0M410.0 211.3h0M430.0 200.2h0M404.9 213.5h0M392.1 223.6h0M393.7 211.0h0M411.5 211.2h0M446.3 187.6h0M393.4 212.0h0M398.8 218.1h0M422.9 180.0h0M388.6 220.8h0M400.8 205.2h0M405.0 216.8h0M403.2 203.5h0M392.6 216.5h0M397.1 221.7h0M399.8 217.7h0M394.6 222.6h0M401.1 205.1h0M404.6 202.9h0M405.9 215.0h0M430.5 198.1h0M392.7 212.4h0M406.9 194.5h0M400.9 206.3h0M395.4 220.7h0M395.9 212.6h0M390.5 218.5h0M396.8 221.2h0M414.7 206.7h0M395.8 223.2h0M398.5 208.1h0M407.6 213.4h0M395.7 211.9h0M396.3 220.1h0M399.8 217.6h0M395.1 213.0h0M395.0 212.9h0M411.8 209.5h0M422.2 203.7h0M389.5 225.1h0M390.0 224.7h0M392.7 223.9h0M388.3 221.2h0M421.6 205.0h0M397.7 210.5h0M395.7 212.9h0M394.1 214.4h0M397.7 219.4h0M431.7 198.5h0M387.7 220.7h0M396.9 210.9h0M397.8 220.7h0M425.9 198.8h0M389.7 216.7h0M392.6 212.0h0M418.4 207.8h0M394.2 213.5h0M388.4 226.2h0M390.3 215.7h0M395.9 211.9h0M388.0 226.5h0M396.6 211.6h0M399.6 217.4h0M406.1 198.6h0M402.4 205.5h0M405.8 214.5h0M397.4 219.7h0M429.5 207.9h0M388.2 219.3h0M395.6 212.2h0M388.8 219.8h0M402.5 199.7h0M398.3 220.6h0M394.5 212.6h0M428.0 203.6h0M411.2 211.6h0M395.6 210.9h0M405.8 200.9h0M418.4 204.2h0M393.5 222.4h0M393.9 215.0h0M442.4 191.1h0M401.4 206.8h0M423.5 200.6h0M410.5 213.7h0M393.4 214.1h0M396.3 210.9h0M400.4 217.6h0M389.4 225.9h0M391.8 211.9h0M411.1 213.5h0M393.5 222.6h0M419.3 204.8h0M389.8 219.6h0M403.1 216.5h0M398.5 207.0h0M423.6 206.0h0M411.4 210.9h0M389.0 218.6h0M401.9 203.5h0M407.1 213.8h0M391.2 224.3h0M407.2 214.1h0M400.3 219.8h0M410.9 209.8h0M408.7 211.8h0M399.2 207.4h0M395.8 220.9h0M395.8 221.0h0M388.3 219.6h0M402.5 200.0h0M399.6 217.4h0M396.7 219.9h0M404.1 214.1h0M388.2 215.9h0M397.5 210.4h0M395.1 212.4h0M409.1 210.8h0M395.5 211.3h0M399.8 208.5h0M411.6 210.5h0M389.1 219.3h0M400.1 217.1h0M391.2 223.6h0M403.1 204.0h0M406.6 198.9h0M405.4 215.1h0M391.8 217.3h0M395.9 211.3h0M400.2 218.9h0M406.5 213.5h0M395.5 213.3h0M399.5 206.9h0M412.8 193.1h0M390.9 215.7h0M429.2 203.7h0M434.0 193.2h0M451.2 180.3h0M388.0 218.9h0M398.5 219.4h0M432.7 195.9h0M405.0 215.1h0M400.0 206.7h0M404.2 215.7h0M408.4 212.6h0M407.6 214.6h0M398.1 219.8h0M412.2 208.5h0M402.2 215.7h0M397.0 221.0h0M397.3 219.2h0M393.6 215.3h0M400.9 218.4h0M394.7 221.1h0M410.7 214.4h0M400.6 217.3h0M397.8 210.4h0M410.6 209.6h0M404.8 202.8h0M391.2 214.9h0M396.5 222.2h0M395.5 211.1h0M393.6 214.1h0M408.4 211.7h0M388.9 220.4h0M387.9 221.7h0M389.5 218.9h0M411.0 210.9h0M398.8 219.8h0M400.2 218.2h0M408.9 211.7h0M387.5 220.6h0M407.7 197.1h0M396.9 220.2h0M389.3 219.7h0M390.3 224.6h0M387.5 220.2h0M402.5 217.6h0M404.4 202.3h0M406.0 201.4h0M403.4 203.3h0M396.2 220.4h0M416.9 186.6h0M391.9 224.9h0M390.5 218.1h0M414.7 206.8h0M398.0 220.3h0M392.8 214.9h0M390.3 218.9h0M425.3 199.3h0M397.2 220.0h0M404.7 214.6h0M389.0 219.1h0M394.9 222.2h0M398.4 219.1h0M388.1 219.4h0M387.4 218.1h0M394.7 213.2h0M406.1 213.3h0M401.9 205.2h0M396.4 220.9h0M407.1 214.7h0M421.7 201.7h0M394.5 211.5h0M404.8 215.9h0M411.7 210.1h0M390.1 218.7h0M409.8 214.0h0M397.4 210.6h0M392.0 216.2h0M412.5 213.7h0M409.8 210.1h0M407.8 212.7h0M402.7 216.3h0M396.0 205.5h0M413.9 191.0h0M431.9 193.7h0M406.4 200.3h0M397.3 210.5h0M399.0 218.9h0M406.6 212.4h0M397.0 220.2h0M402.2 217.7h0M413.2 210.0h0M388.7 220.5h0M401.3 206.8h0M398.4 218.8h0M391.0 216.6h0M405.2 202.4h0M392.9 214.8h0M392.6 224.1h0M388.7 216.9h0M410.9 211.9h0M400.8 205.5h0M411.3 210.0h0M397.7 210.8h0M392.0 216.3h0M397.8 209.6h0M399.1 218.5h0M422.4 201.6h0M410.2 195.2h0M413.0 208.9h0M410.1 209.7h0M408.6 214.6h0M408.2 193.2h0M417.4 208.2h0M393.4 213.7h0M402.2 215.9h0M405.7 213.5h0M412.9 208.1h0M399.4 218.6h0M399.9 205.8h0M415.1 206.9h0M392.7 216.1h0M388.1 226.2h0M407.5 199.0h0M407.9 218.1h0M390.3 218.8h0M398.6 218.8h0M412.3 208.6h0M391.7 217.0h0M397.2 219.3h0M423.9 202.3h0M399.9 205.8h0M393.3 215.4h0M395.2 212.9h0M419.7 204.6h0M398.8 204.5h0M389.7 216.9h0M401.5 205.7h0M390.4 216.1h0M393.4 215.3h0M391.6 216.3h0M389.0 220.6h0M397.8 220.4h0M405.0 214.7h0M400.0 218.4h0M396.1 220.2h0M394.7 211.8h0M394.3 222.3h0M398.7 206.4h0M389.6 226.1h0M412.6 214.1h0M390.8 217.0h0M433.6 197.2h0M390.3 217.6h0M419.1 207.4h0M420.6 203.8h0M388.8 218.9h0M424.1 204.0h0M388.8 218.7h0M409.1 211.6h0M392.5 216.3h0M396.6 210.8h0M414.4 184.1h0M399.3 218.7h0M399.4 207.3h0M390.3 224.3h0M391.7 212.8h0M399.7 203.4h0M394.6 222.7h0M395.6 212.1h0M415.8 205.5h0M413.8 207.6h0M394.8 223.7h0M403.3 200.1h0M435.5 191.5h0M397.9 220.1h0M401.3 216.5h0M408.1 215.3h0M399.8 207.1h0M399.7 207.7h0M389.1 225.5h0M397.8 219.5h0M393.6 215.1h0M393.9 214.6h0M395.6 209.5h0M434.7 198.4h0M387.7 219.6h0M391.2 217.8h0M413.5 193.2h0M435.6 190.8h0M411.9 208.5h0M396.3 212.0h0M395.1 210.7h0M394.3 213.2h0M394.1 222.6h0M389.4 216.7h0M404.2 201.6h0M435.5 191.7h0M388.8 219.1h0M409.4 197.6h0M395.6 212.1h0M399.4 217.9h0M409.3 214.2h0M397.7 209.1h0M390.6 216.5h0M389.5 220.0h0M398.1 218.7h0M390.8 215.3h0M396.4 222.9h0M393.4 212.7h0M390.8 218.5h0M389.9 218.9h0M398.3 205.5h0M415.8 208.1h0M399.2 219.2h0M404.1 214.2h0M402.8 215.9h0M398.9 209.1h0M388.5 220.2h0M416.7 208.2h0M393.7 213.6h0M411.2 210.9h0M395.9 221.4h0M391.9 223.7h0M392.9 215.0h0M393.1 209.5h0M398.3 208.9h0M388.2 220.3h0M391.9 217.2h0M391.9 223.7h0M401.3 217.0h0M395.4 223.7h0M390.8 224.1h0M436.5 193.5h0M388.2 219.1h0M400.7 219.5h0M392.4 214.8h0M389.2 214.8h0M388.4 219.8h0M403.4 215.0h0M445.0 184.4h0M408.1 213.6h0M392.6 223.4h0M408.4 211.8h0M397.4 208.2h0M391.2 217.9h0M390.9 216.8h0M400.8 216.6h0M396.9 210.8h0M390.4 217.8h0M400.7 218.4h0M413.2 209.6h0M392.4 215.8h0M395.0 212.7h0M389.9 218.9h0M388.5 219.0h0M397.5 219.2h0M395.0 221.0h0M387.4 222.2h0M410.7 193.2h0M423.1 182.6h0M400.5 219.2h0M403.0 218.0h0M394.7 222.9h0M394.9 212.0h0M400.8 216.5h0M415.6 207.1h0M396.3 212.4h0M396.8 210.0h0M398.6 209.6h0M416.0 208.3h0M414.5 207.6h0M409.4 214.2h0M403.8 215.2h0M396.1 211.7h0M394.7 212.8h0M391.7 216.8h0M389.9 219.1h0M399.7 218.8h0M408.9 212.9h0M397.5 210.9h0M410.9 215.0h0M395.7 209.7h0M403.4 218.0h0M395.8 220.5h0M396.3 219.9h0M396.9 219.5h0M398.5 219.1h0M423.6 201.7h0M394.8 207.0h0M396.1 220.9h0M404.6 214.2h0M391.4 217.1h0M393.6 208.0h0M393.5 212.3h0M395.1 220.8h0M405.2 197.7h0M395.8 211.1h0M419.1 207.0h0M399.1 206.5h0M408.9 198.5h0M394.9 212.8h0M410.8 209.3h0M404.3 214.8h0M392.9 225.9h0M400.6 206.5h0M390.3 217.8h0M401.2 216.3h0M404.8 215.8h0M407.5 199.0h0M398.7 201.9h0M398.7 219.1h0M408.8 212.4h0M404.5 217.0h0M396.5 209.3h0M400.1 217.8h0M389.9 219.0h0M395.6 221.4h0M410.8 209.3h0M423.6 201.1h0M393.1 213.5h0M398.1 220.7h0M394.7 211.4h0M392.2 216.9h0M409.3 212.6h0M424.1 201.8h0M391.6 213.6h0M418.1 204.7h0M402.5 198.4h0M406.4 215.5h0M392.1 213.1h0M420.3 207.6h0M400.4 219.6h0M402.1 217.9h0M413.4 208.9h0M401.0 217.2h0M404.1 196.0h0M402.5 216.0h0M394.0 212.8h0M411.5 208.8h0M408.2 214.0h0M396.0 212.2h0M400.6 217.2h0M422.5 201.6h0M407.0 198.1h0M407.4 214.3h0M395.8 210.1h0M391.0 225.8h0M408.1 213.0h0M400.2 217.9h0M402.2 205.0h0M422.9 203.1h0M397.0 211.0h0M395.8 221.9h0M399.7 219.9h0M413.5 210.2h0M400.1 217.8h0M409.9 211.0h0M403.8 215.7h0M403.4 202.8h0M418.4 207.3h0M397.9 206.4h0M424.7 200.4h0M414.1 207.1h0M392.9 215.4h0M408.1 214.3h0M390.2 218.0h0M391.6 212.9h0M411.8 194.9h0M391.1 217.2h0M406.6 212.5h0M391.4 215.5h0M414.9 208.3h0M408.3 213.3h0M400.7 216.8h0M404.4 215.0h0M402.2 220.0h0M398.1 209.0h0M389.7 218.3h0M397.4 208.2h0M396.2 209.3h0M388.3 220.8h0M390.3 209.4h0M402.5 205.4h0M399.3 217.6h0M407.2 212.7h0M388.7 217.6h0M408.9 198.2h0M389.8 218.7h0M406.2 213.6h0M418.1 204.2h0M397.7 209.4h0M413.6 209.5h0M395.0 213.5h0M395.2 207.8h0M405.1 201.0h0M402.9 201.6h0M409.4 210.6h0M405.4 197.7h0M407.3 211.9h0M409.1 196.6h0M424.4 201.7h0M408.3 199.0h0M388.2 219.9h0M430.3 198.3h0M410.4 210.9h0M392.8 222.9h0M399.3 217.9h0M400.3 217.2h0M405.8 198.2h0M419.3 205.8h0M395.4 220.6h0M393.0 213.3h0M418.4 204.2h0M391.1 217.4h0M411.3 209.7h0M404.7 213.7h0M425.4 202.5h0M399.4 204.6h0M400.1 205.5h0M427.2 198.1h0M393.8 213.2h0M437.0 196.5h0M396.1 220.3h0M388.2 221.1h0M407.5 196.8h0M391.1 216.2h0M413.5 189.3h0M392.5 213.6h0M400.2 218.3h0M393.5 222.7h0M394.0 213.4h0M394.7 211.6h0M402.6 203.5h0M404.1 214.6h0M395.9 210.4h0M400.7 217.4h0M407.8 214.3h0M424.1 201.7h0M428.8 199.7h0M395.6 213.1h0M417.1 188.7h0M419.3 202.9h0M398.8 222.9h0M395.9 209.8h0M389.1 219.5h0M409.0 215.8h0M392.8 215.8h0M399.8 220.6h0M393.6 222.0h0M420.7 206.4h0M388.3 220.7h0M399.0 208.4h0M407.3 198.6h0M388.4 217.1h0M412.2 209.3h0M390.6 218.3h0M408.4 198.1h0M392.2 217.0h0M412.5 211.9h0M402.0 217.0h0M406.7 192.0h0M405.1 213.4h0M410.8 193.1h0M417.4 205.2h0M395.6 209.6h0M405.8 213.4h0M394.7 221.5h0M406.4 214.5h0M390.2 218.8h0M401.3 206.1h0M402.0 218.1h0M394.1 206.8h0M409.5 213.4h0M397.6 221.6h0M395.8 212.6h0M398.9 218.0h0M416.0 205.4h0M393.6 213.7h0M396.6 223.1h0M404.5 215.1h0M435.4 191.8h0M400.7 219.6h0M404.5 216.2h0M397.1 211.6h0M395.8 212.3h0M405.3 214.3h0M407.1 213.8h0M392.2 224.0h0M421.4 203.5h0M402.1 217.6h0M390.3 226.0h0M403.1 203.6h0M390.6 217.2h0M411.3 192.9h0M400.8 207.2h0M404.1 216.1h0M391.0 215.9h0M392.6 216.5h0M395.9 211.5h0M397.9 210.0h0M398.2 208.0h0M408.0 214.2h0M439.3 198.8h0M427.7 203.4h0M400.8 204.0h0M413.4 193.5h0M393.1 215.7h0M404.7 197.5h0M423.2 206.7h0M391.8 216.3h0M403.3 215.8h0M393.6 210.8h0M410.5 194.8h0M396.5 209.2h0M479.6 205.7h0" stroke="#2ee62e" stroke-width="1.7" stroke-linecap="round" fill="none"/>
<path d="M401.9 215.1h0M395.5 214.4h0M396.4 212.6h0M385.2 224.7h0M425.0 193.0h0M413.8 206.5h0M397.1 213.0h0M408.6 204.1h0M402.8 212.8h0M395.3 219.7h0M411.3 205.0h0M397.2 215.1h0M397.1 213.8h0M399.1 213.5h0M405.8 211.7h0M394.9 217.9h0M401.2 213.5h0M392.9 218.8h0M401.9 213.6h0M404.2 209.3h0M408.7 206.8h0M430.3 183.5h0M388.6 222.9h0M388.2 222.1h0M389.3 223.9h0M401.3 214.0h0M412.8 199.8h0M402.1 211.9h0M402.9 206.9h0M398.4 217.1h0M409.8 208.0h0M391.4 222.2h0M396.3 213.5h0M402.4 212.3h0M393.8 219.5h0M391.7 218.2h0M395.2 217.4h0M411.2 205.2h0M397.9 215.0h0M416.6 202.5h0M413.5 206.3h0M412.2 204.2h0M401.5 213.9h0M414.8 203.7h0M400.8 213.0h0M411.7 204.2h0M437.6 185.0h0M393.7 217.2h0M407.0 204.4h0M398.2 216.0h0M407.0 211.1h0M391.8 221.7h0M414.6 198.6h0M400.7 214.4h0M419.7 190.1h0M399.9 213.0h0M393.9 218.7h0M405.0 207.7h0M399.3 217.5h0M390.7 221.6h0M392.9 221.0h0M424.3 191.3h0M403.6 208.9h0M404.3 207.3h0M397.5 217.4h0M394.3 219.6h0M410.2 199.7h0M393.8 217.4h0M398.8 211.3h0M392.8 217.9h0M401.9 211.3h0M413.5 195.2h0M393.3 215.8h0M418.3 199.3h0M394.4 219.1h0M401.5 207.2h0M393.3 216.3h0M398.0 215.5h0M400.5 208.0h0M394.4 220.7h0M393.4 217.1h0M388.9 221.4h0M397.6 215.5h0M404.1 212.1h0M410.4 202.8h0M439.6 186.6h0M403.2 214.6h0M411.2 203.5h0M403.6 212.6h0M387.1 225.5h0M398.5 213.7h0M422.7 184.2h0M408.5 206.0h0M400.4 214.9h0M399.6 212.4h0M398.5 214.3h0M408.0 200.1h0M408.9 201.0h0M395.3 218.5h0M395.5 218.2h0M407.5 204.9h0M393.5 215.8h0M396.1 215.6h0M430.7 184.1h0M399.5 212.2h0M405.3 210.1h0M393.4 219.5h0M402.0 212.5h0M403.6 209.7h0M389.0 224.4h0M407.2 208.1h0M392.8 216.7h0M397.4 214.2h0M413.1 206.3h0M389.9 223.9h0M404.4 208.8h0M392.9 218.7h0M395.8 218.8h0M400.2 211.8h0M397.2 218.8h0M402.6 209.4h0M408.3 205.9h0M407.1 205.4h0M399.2 210.4h0M390.0 223.4h0M393.5 216.6h0M398.2 214.4h0M408.3 208.0h0M397.8 217.6h0M397.7 214.0h0M407.3 209.9h0M402.2 209.2h0M392.2 219.4h0M403.1 212.3h0M403.5 207.7h0M392.9 222.1h0M405.3 206.2h0M401.2 215.7h0M390.6 222.8h0M413.6 205.3h0M409.0 203.1h0M391.5 222.6h0M392.9 217.3h0M397.8 216.0h0M419.9 201.1h0M408.2 207.8h0M397.5 215.9h0M406.2 208.1h0M386.8 224.8h0M403.1 210.8h0M409.8 204.1h0M398.4 215.2h0M394.1 216.6h0M406.0 211.4h0M402.0 213.9h0M391.4 220.9h0M418.6 190.7h0M387.5 223.4h0M405.3 209.9h0M395.1 215.0h0M393.2 221.4h0M416.5 190.5h0M403.0 212.9h0M416.1 197.7h0M401.2 213.2h0M400.6 216.4h0M397.9 215.4h0M408.1 201.8h0M403.9 209.6h0M402.8 212.5h0M392.3 219.5h0M414.4 205.2h0M407.9 209.6h0M395.8 214.9h0M387.4 225.7h0M407.1 208.8h0M405.9 208.1h0M395.0 217.2h0M387.9 221.9h0M413.5 196.8h0M395.0 214.9h0M395.9 218.4h0M450.3 178.7h0M431.8 185.6h0M411.0 208.8h0M396.1 217.8h0M407.0 208.6h0M385.8 226.1h0M401.0 214.3h0M393.8 221.4h0M390.5 219.8h0M405.5 204.3h0M400.9 215.0h0M401.6 212.0h0M409.5 207.7h0M393.2 218.0h0M390.8 219.0h0M387.9 223.4h0M397.0 213.4h0M408.4 207.6h0M398.6 216.5h0M406.9 205.9h0M391.1 221.6h0M395.9 218.1h0M409.6 206.0h0M393.8 218.1h0M393.7 219.3h0M389.6 220.2h0M404.5 212.6h0M390.4 220.1h0M396.7 219.3h0M392.0 217.2h0M395.9 219.5h0M394.4 219.5h0M397.4 212.8h0M400.7 210.3h0M420.0 200.6h0M409.1 205.1h0M397.7 213.2h0M408.0 205.3h0M394.3 220.1h0M405.8 208.7h0M390.1 220.8h0M408.4 205.8h0M409.1 209.5h0M384.4 226.4h0M393.9 216.2h0M395.9 213.3h0M387.3 224.1h0M392.5 220.3h0M403.0 210.6h0M444.1 177.1h0M396.5 213.9h0M413.9 196.6h0M400.8 214.5h0M393.7 217.1h0M420.9 197.9h0M406.5 203.4h0M405.2 212.4h0M393.2 219.7h0M420.1 197.7h0M395.5 216.2h0M392.2 218.5h0M418.9 194.4h0M404.2 209.4h0M404.2 211.1h0M404.6 209.5h0M396.4 212.8h0M390.5 220.9h0M388.1 223.2h0M404.8 204.9h0M433.9 188.5h0M388.3 224.0h0M401.3 210.5h0M404.2 211.0h0M392.3 217.6h0M402.0 206.3h0M391.6 220.4h0M414.6 196.3h0M395.0 217.1h0M387.9 224.0h0M408.5 208.2h0M399.2 216.9h0M402.3 211.7h0M391.7 218.3h0M401.4 208.6h0M408.0 207.8h0M400.3 215.5h0M427.1 190.5h0M398.1 212.8h0M388.7 221.5h0M413.9 206.8h0M404.8 211.6h0M421.7 194.0h0M415.6 196.7h0M396.7 213.7h0M402.7 214.1h0M412.9 204.2h0M390.8 219.1h0M411.4 206.1h0M398.2 211.4h0M403.0 205.9h0M400.6 212.6h0M395.0 215.4h0M402.8 205.7h0M414.3 198.7h0M390.3 221.4h0M410.6 209.0h0M387.0 224.4h0M398.9 217.7h0M400.1 212.2h0M404.6 206.4h0M388.6 222.1h0M399.4 215.1h0M401.2 215.1h0M415.5 201.2h0M399.0 216.1h0M405.6 210.5h0M398.3 214.9h0M396.1 216.2h0M407.7 210.1h0M392.3 218.9h0M393.3 221.7h0M406.1 211.0h0M424.8 195.5h0M403.9 206.5h0M403.1 205.5h0M396.9 215.2h0M412.9 203.5h0M405.7 210.3h0M423.7 194.6h0M403.4 210.9h0M392.5 217.5h0M392.3 218.3h0M390.7 221.4h0M415.6 197.2h0M409.0 209.4h0M390.7 221.0h0M424.6 189.4h0M402.4 213.2h0M392.5 217.5h0M404.0 206.0h0M399.4 214.2h0M387.2 224.3h0M400.4 216.6h0M402.9 209.7h0M384.7 224.5h0M405.9 205.6h0M406.6 204.7h0M395.9 218.9h0M401.1 211.2h0M397.5 217.6h0M393.3 218.2h0M396.8 217.4h0M417.0 194.4h0M402.4 207.1h0M394.2 217.1h0M396.2 216.4h0M393.2 216.6h0M400.1 214.1h0M403.3 211.3h0M392.8 218.4h0M395.2 220.0h0M401.2 213.8h0M397.9 217.0h0M396.5 217.5h0M416.2 202.9h0M395.9 214.4h0M416.7 204.6h0M413.7 206.9h0M391.9 219.3h0M412.2 198.4h0M394.6 218.1h0M396.6 216.0h0M387.3 224.3h0M390.4 220.4h0M395.1 216.2h0M392.2 218.1h0M398.1 217.3h0M418.6 200.5h0M388.3 222.6h0M392.8 220.7h0M407.9 208.5h0M398.2 216.6h0M395.4 215.0h0M406.6 212.3h0M402.8 208.0h0M398.0 217.7h0M393.3 217.9h0M406.8 207.8h0M404.9 206.5h0M396.4 218.7h0M390.9 223.1h0M400.9 215.7h0M394.5 220.6h0M409.6 203.9h0M396.2 216.4h0M409.4 207.5h0M393.5 217.3h0M399.1 211.4h0M401.6 213.2h0M406.4 210.2h0M402.6 211.5h0M396.9 215.9h0M391.4 220.8h0M394.0 217.3h0M395.5 215.1h0M407.4 208.0h0M396.8 218.2h0M390.7 219.7h0M406.7 208.2h0M393.5 221.2h0M385.3 224.8h0M391.4 221.3h0M401.7 208.7h0M396.8 212.5h0M395.4 213.9h0M417.5 201.4h0M396.1 214.3h0M396.1 218.7h0M404.6 204.6h0M396.1 213.2h0M394.9 220.2h0M396.5 216.6h0M395.3 213.8h0M391.4 220.2h0M425.2 194.9h0M394.2 218.7h0M402.9 208.6h0M402.9 208.7h0M389.8 222.0h0M408.6 207.7h0M395.3 219.6h0M396.3 214.3h0M401.6 211.5h0M398.7 210.4h0M419.0 194.3h0M415.5 200.2h0M415.5 200.9h0M398.1 211.3h0M408.1 210.7h0M398.5 215.1h0M394.8 215.9h0M393.5 218.4h0M395.3 217.0h0M400.8 211.2h0M392.0 222.4h0M395.3 214.0h0M399.5 215.9h0M403.2 209.7h0M426.8 182.4h0M402.0 207.3h0M389.8 219.8h0M401.3 211.7h0M404.1 205.8h0M394.3 216.8h0M394.7 216.9h0M387.7 225.2h0M394.4 219.8h0M399.9 211.2h0M414.6 205.2h0M397.4 217.7h0M396.7 217.4h0M405.7 210.8h0M406.2 206.7h0M416.8 204.2h0M395.9 220.0h0M401.5 210.8h0M396.8 214.9h0M398.1 217.1h0M395.8 216.3h0M399.0 215.3h0M405.2 210.8h0M402.3 214.3h0M395.2 217.5h0M390.5 223.1h0M418.1 191.4h0M396.1 218.1h0M406.0 205.1h0M389.2 223.3h0M397.6 214.1h0M419.0 197.1h0M391.9 220.2h0M393.3 219.9h0M421.4 197.5h0M387.4 225.0h0M407.0 203.6h0M405.1 210.6h0M443.9 182.8h0M391.4 221.4h0M397.2 212.5h0M397.8 216.7h0M394.3 217.6h0M390.2 222.4h0M402.2 212.5h0M394.2 216.0h0M404.2 207.2h0M404.2 206.4h0M389.6 221.3h0M399.1 214.2h0M402.6 211.8h0M404.0 210.4h0M404.1 207.3h0M402.1 207.7h0M425.1 190.9h0M398.5 215.5h0M390.8 221.9h0M409.8 204.9h0M392.0 219.2h0M422.9 188.6h0M396.2 213.8h0M389.8 219.9h0M396.1 216.9h0M391.2 222.2h0M401.5 215.5h0M396.3 217.3h0M391.8 219.3h0M406.4 206.7h0M408.0 209.0h0M415.5 205.1h0M394.6 216.4h0M410.2 209.0h0M400.0 214.1h0M399.7 214.0h0M406.8 210.7h0M394.2 215.8h0M395.8 215.1h0M400.4 210.9h0M394.5 219.3h0M401.3 211.0h0M405.7 211.2h0M399.8 214.9h0M424.0 190.1h0M410.0 209.7h0M393.2 218.6h0M426.4 192.0h0M401.2 213.8h0M414.0 200.7h0M389.4 222.5h0M400.0 209.3h0M387.6 223.7h0M393.6 217.8h0M408.7 201.2h0M413.6 198.8h0M395.0 217.0h0M421.3 195.7h0M390.2 220.4h0M399.4 215.7h0M396.6 213.9h0M416.2 190.5h0M393.5 217.8h0M438.2 181.0h0M404.9 212.8h0M407.4 206.6h0M408.7 203.2h0M401.7 214.8h0M406.3 204.9h0M399.4 212.7h0M398.0 212.6h0M401.3 209.2h0M394.8 215.0h0M420.7 190.8h0M386.1 227.0h0M400.1 211.2h0M394.1 219.5h0M404.2 209.6h0M394.8 215.3h0M396.7 218.6h0M394.6 218.2h0M415.2 196.9h0M401.4 215.7h0M393.9 221.3h0M400.3 213.0h0M394.1 220.5h0M403.8 211.0h0M409.3 201.5h0M403.1 213.4h0M414.4 197.1h0M386.5 225.5h0M400.1 215.8h0M395.2 219.6h0M396.0 214.3h0M400.5 213.8h0M394.7 215.3h0M395.0 215.0h0M385.6 224.4h0M412.8 201.2h0M397.3 213.1h0M392.5 216.7h0M403.1 213.4h0M388.4 222.5h0M398.0 211.2h0M401.2 211.3h0M417.0 201.4h0M414.4 205.6h0M401.6 210.8h0M393.8 217.9h0M396.4 216.2h0M412.9 199.1h0M405.8 202.9h0M394.6 214.8h0M412.1 202.5h0M396.7 216.6h0M396.4 214.6h0M397.5 211.3h0M402.8 206.9h0M416.1 196.4h0M405.4 208.0h0M385.6 225.9h0M388.3 222.4h0M401.6 208.7h0M399.4 216.4h0M432.5 185.6h0M410.9 202.0h0M412.6 202.5h0M397.9 218.4h0M404.9 210.0h0M391.4 221.5h0M392.6 217.2h0M415.1 205.4h0M389.8 222.8h0M407.4 206.1h0M408.5 203.0h0M410.4 199.6h0M392.2 218.1h0M394.9 215.6h0M410.5 204.6h0M391.4 217.9h0M394.2 217.3h0M416.4 198.0h0M390.1 221.5h0M406.8 201.0h0M386.4 223.4h0M403.4 209.2h0M396.1 219.2h0M396.3 214.6h0M392.2 218.6h0M401.6 209.1h0M403.7 207.8h0M419.3 200.2h0M399.9 215.4h0M401.0 212.7h0M399.8 212.7h0M412.4 204.4h0M387.3 224.1h0M403.3 209.2h0M402.4 208.3h0M396.6 216.6h0M403.1 214.3h0M400.1 210.5h0M398.1 216.3h0M402.0 214.9h0M409.9 207.9h0M401.3 212.1h0M390.5 220.2h0M398.8 215.8h0M387.6 224.3h0M407.9 211.0h0M392.6 221.1h0M416.1 198.3h0M396.5 218.9h0M416.6 200.2h0M404.2 207.6h0M395.3 219.8h0M406.0 210.1h0M417.7 202.6h0M403.6 212.3h0M391.9 220.8h0M397.9 210.8h0M417.1 197.3h0M403.3 209.3h0M398.1 212.2h0M398.3 216.1h0M387.9 222.1h0M404.9 212.6h0M404.2 209.4h0M411.3 205.2h0M391.0 219.6h0M393.4 217.2h0M410.7 207.2h0M403.3 212.7h0M417.4 202.1h0M393.1 216.1h0M402.0 214.1h0M394.4 217.9h0M395.8 219.1h0M405.7 211.0h0M407.3 204.1h0M410.8 202.7h0M391.9 221.4h0M392.9 221.7h0M400.1 212.8h0M406.1 209.2h0M396.1 218.0h0M388.7 223.7h0M401.7 213.5h0M439.2 186.4h0M390.5 222.8h0M441.3 181.1h0M403.1 205.2h0M422.3 192.7h0M394.0 219.6h0M400.8 211.4h0M392.1 217.2h0M388.9 222.6h0M397.6 215.9h0M394.5 217.7h0M406.1 210.8h0M415.7 194.8h0M398.4 217.3h0M400.6 211.0h0M401.9 214.4h0M400.1 214.5h0M399.6 211.6h0M387.0 225.4h0M397.7 217.8h0M403.2 211.5h0M413.6 201.6h0M403.8 213.1h0M410.7 203.6h0M445.8 177.2h0M402.4 212.9h0M417.4 194.5h0M393.6 218.7h0M399.4 211.1h0M397.4 215.6h0M392.8 218.3h0M416.7 191.8h0M406.4 204.4h0M394.9 218.0h0M400.7 212.2h0M396.2 213.0h0M393.7 216.6h0M394.6 218.5h0M396.2 215.0h0M402.9 208.0h0M392.7 218.1h0M399.2 215.0h0M404.6 213.0h0M436.7 186.1h0M383.5 225.1h0M396.5 216.2h0M403.2 214.6h0M420.7 195.3h0M408.2 202.8h0M385.7 225.4h0M403.1 210.5h0M401.0 210.9h0M404.3 207.5h0M417.1 201.1h0M391.6 219.7h0M413.1 205.7h0M388.5 222.9h0M400.5 209.9h0M435.4 185.3h0M394.2 217.1h0M388.3 222.0h0M407.5 205.3h0M394.5 215.3h0M420.6 197.6h0M393.0 219.1h0M415.3 205.3h0M411.7 201.5h0M422.2 196.2h0M395.0 217.8h0M409.2 207.9h0M392.2 220.9h0M389.0 221.4h0M397.7 213.1h0M401.7 213.2h0M403.6 210.3h0M407.1 211.7h0M393.4 220.7h0M415.5 195.5h0M402.6 210.6h0M395.3 214.0h0M414.0 201.3h0M390.6 222.2h0M390.3 221.9h0M398.1 213.1h0M391.2 222.5h0M407.7 206.8h0M408.7 206.7h0M394.5 217.5h0M399.6 213.6h0M400.1 215.9h0M426.5 187.1h0M400.0 214.7h0M392.8 217.3h0M392.7 222.1h0M388.5 224.4h0M395.9 214.8h0M396.7 216.8h0M395.9 219.7h0M402.3 211.8h0M392.8 221.7h0M407.5 201.5h0M405.4 206.8h0M393.9 220.0h0M396.6 217.8h0M400.4 215.2h0M400.8 212.3h0M399.0 215.4h0M394.2 220.0h0M388.8 224.2h0M395.2 218.6h0M391.9 218.5h0M395.3 216.3h0M405.3 205.7h0M409.6 207.2h0M403.0 210.4h0M399.5 214.4h0M388.5 221.9h0M386.2 223.9h0M408.6 200.0h0M410.2 200.1h0M402.6 209.6h0M391.7 219.4h0M418.3 198.8h0M414.5 202.9h0M397.8 217.9h0M387.0 225.1h0M408.0 207.6h0M388.6 223.2h0M407.1 207.7h0M407.7 210.8h0M400.7 212.1h0M420.4 199.0h0M396.1 218.6h0M414.7 195.9h0M404.1 208.6h0M398.0 210.7h0M401.0 212.6h0M434.7 189.3h0M397.6 216.8h0M391.6 218.1h0M390.7 219.4h0M387.3 222.8h0M402.1 210.5h0M400.0 214.7h0M391.8 222.1h0M389.2 221.5h0M396.9 214.0h0M390.0 222.7h0M401.1 214.4h0M399.3 213.0h0M408.2 207.7h0M394.3 215.5h0M416.7 203.2h0M405.1 207.5h0M406.5 208.2h0M397.4 214.4h0M390.3 222.2h0M389.1 221.7h0M397.9 212.1h0M393.8 217.2h0M406.0 208.6h0M400.0 211.9h0M406.3 209.6h0M402.9 209.9h0M400.6 211.3h0M396.5 214.5h0M395.7 217.2h0M429.1 181.4h0M387.9 224.5h0M398.0 212.1h0M404.0 208.6h0M417.4 201.0h0M405.4 206.8h0M396.8 214.9h0M389.6 220.1h0M411.0 203.2h0M395.9 214.0h0M405.3 209.3h0M396.1 218.9h0M395.8 214.7h0M388.7 224.0h0M394.9 217.2h0M401.7 213.9h0M407.5 210.7h0M415.4 199.3h0M396.7 216.4h0M401.9 207.7h0M403.9 208.0h0M405.4 208.5h0M383.7 226.6h0M393.3 221.0h0M391.2 220.4h0M402.0 213.7h0M387.2 225.6h0M397.8 210.9h0M401.8 211.1h0M399.6 216.1h0M394.8 215.8h0M408.5 205.8h0M403.8 205.6h0M394.9 214.2h0M401.1 215.2h0M393.9 216.0h0M393.8 221.6h0M388.6 222.2h0M397.3 215.9h0M408.1 209.3h0M400.4 212.9h0M399.1 216.2h0M394.2 215.3h0M394.9 217.1h0M407.2 209.7h0M388.9 221.9h0M398.6 216.8h0M430.9 178.8h0M412.9 199.9h0M395.6 215.9h0M406.9 208.8h0M403.7 212.6h0M407.6 210.8h0M394.6 218.1h0M394.1 220.7h0M389.4 221.5h0M396.7 217.8h0M401.2 210.4h0M401.4 210.4h0M400.8 209.5h0M395.6 213.2h0M386.2 226.1h0M395.6 213.5h0M405.7 212.4h0M407.3 202.1h0M398.9 213.1h0M409.1 199.6h0M399.4 214.2h0M385.9 226.8h0M418.6 197.6h0M385.9 226.7h0M388.4 222.4h0M393.4 217.7h0M399.7 213.1h0M398.6 214.9h0M386.0 226.2h0M400.3 214.1h0M398.1 214.0h0M406.5 211.8h0M406.7 208.3h0M401.2 214.9h0M412.6 207.3h0M389.5 224.2h0M390.5 222.1h0M391.6 218.3h0M404.8 210.4h0M396.9 211.8h0M398.5 214.2h0M430.1 186.3h0M397.8 216.0h0M416.8 202.7h0M411.6 199.1h0M391.7 220.1h0M393.8 220.2h0M401.4 212.5h0M398.3 212.7h0M414.1 202.4h0M389.6 222.8h0M396.3 214.6h0M397.4 217.8h0M412.1 199.7h0M390.2 222.9h0M407.9 205.3h0M394.0 217.9h0M409.8 202.0h0M396.4 218.6h0M405.7 212.9h0M399.8 209.6h0M397.3 214.9h0M395.8 217.0h0M387.6 223.3h0M393.0 219.0h0M400.4 212.5h0M400.7 211.0h0M388.7 223.6h0M409.9 208.0h0M389.7 223.0h0M391.2 219.2h0M403.9 208.4h0M393.1 218.9h0M397.8 218.0h0M398.4 211.1h0M402.7 211.4h0M394.9 216.3h0M427.8 194.3h0M389.2 221.5h0M395.2 215.2h0M400.0 213.4h0M413.3 198.7h0M399.6 211.0h0M407.0 204.8h0M384.3 224.9h0M412.8 205.8h0M412.3 206.9h0M393.1 220.2h0M414.6 194.7h0M401.6 215.0h0M409.3 205.8h0M390.0 220.4h0M392.8 216.5h0M393.1 218.7h0M393.5 221.0h0M412.7 206.6h0M412.3 203.8h0M388.0 224.3h0M393.9 221.1h0M413.2 197.9h0M407.0 203.0h0M415.0 197.1h0M406.9 205.3h0M416.0 203.6h0M393.1 218.7h0M388.0 224.9h0M395.8 214.8h0M408.4 199.4h0M401.9 212.0h0M409.2 205.1h0M407.0 207.1h0M404.7 209.3h0M408.3 204.3h0M393.6 221.0h0M412.1 199.8h0M398.4 215.1h0M389.4 221.6h0M404.6 210.7h0M416.8 198.0h0M389.8 220.1h0M401.9 210.6h0M392.6 218.1h0M414.4 196.3h0M395.8 217.3h0M417.9 200.0h0M393.1 218.9h0M386.7 224.5h0M405.1 209.5h0M409.7 199.6h0M401.6 213.8h0M398.0 213.4h0M392.3 217.9h0M435.5 181.6h0M407.4 203.2h0M396.7 214.7h0M384.4 225.4h0M419.8 201.6h0M427.4 188.7h0M417.8 197.4h0M398.9 216.4h0M389.5 220.6h0M404.9 209.1h0M393.5 215.9h0M396.2 214.4h0M396.8 216.4h0M409.5 204.0h0M421.9 197.5h0M400.9 216.0h0M399.7 210.0h0M391.1 220.5h0M390.5 221.6h0M391.4 220.8h0M409.4 201.3h0M401.9 208.4h0M410.5 203.7h0M403.8 213.4h0M396.1 215.1h0M396.3 212.8h0M389.4 220.6h0M428.2 195.8h0M402.2 211.8h0M396.3 218.0h0M428.1 188.1h0M396.2 216.3h0M405.4 211.7h0M403.1 209.6h0M404.7 209.6h0M390.3 219.3h0M385.8 225.1h0M416.4 202.9h0M409.4 202.9h0M419.7 197.5h0M424.8 195.1h0M394.5 220.0h0M388.4 224.7h0M396.9 214.0h0M405.5 210.8h0M389.7 224.3h0M390.1 221.4h0M399.8 216.1h0M394.0 215.6h0M400.5 212.5h0M401.2 212.2h0M400.7 214.7h0M388.6 222.9h0M392.4 219.5h0M398.6 212.6h0M414.6 205.7h0M395.7 218.0h0M398.8 212.6h0M393.4 216.7h0M392.6 219.6h0M396.9 217.3h0M410.1 204.4h0M396.4 217.0h0M402.9 211.5h0M389.7 219.8h0M410.1 202.4h0M406.7 209.1h0M388.0 223.9h0M383.2 228.3h0M391.3 220.8h0M391.8 222.9h0M406.1 211.5h0M388.6 221.7h0M401.1 215.0h0M397.5 211.6h0M408.1 206.3h0M416.4 199.1h0M402.8 205.6h0M396.5 219.4h0M417.2 195.1h0M400.4 210.8h0M416.8 203.4h0M397.6 217.4h0M390.4 221.2h0M405.3 205.4h0M402.3 214.2h0M410.4 202.9h0M385.7 225.5h0M398.3 215.9h0M433.1 180.1h0M394.4 216.0h0M394.5 215.8h0M389.2 222.1h0M397.2 215.4h0M401.6 210.5h0M397.3 214.8h0M404.1 207.8h0M405.7 204.9h0M394.7 220.0h0M402.7 214.5h0M392.6 218.5h0M415.2 199.1h0M393.0 219.9h0M385.5 224.6h0M411.5 201.2h0M397.3 214.6h0M400.9 213.5h0M400.6 212.8h0M422.2 196.3h0M402.1 215.1h0M394.1 218.7h0M416.6 192.8h0M412.6 197.1h0M391.8 221.8h0M402.3 210.5h0M395.8 218.4h0M396.3 215.3h0M390.3 219.7h0M399.0 214.4h0M397.2 215.0h0M401.2 213.0h0M404.5 208.2h0M392.1 220.6h0M399.9 213.8h0M389.2 220.8h0M406.5 211.6h0M396.6 217.3h0M396.2 216.7h0M394.6 217.2h0M402.2 207.5h0M390.5 222.8h0M398.4 212.6h0M398.2 213.2h0M388.9 223.2h0M395.2 215.3h0M402.2 210.2h0M408.7 205.7h0M390.5 220.8h0M402.4 208.4h0M388.3 224.9h0M393.1 218.8h0M419.6 200.1h0M397.7 214.9h0M391.0 222.2h0M410.1 198.9h0M397.6 216.0h0M406.0 207.3h0M403.9 209.1h0M405.0 207.9h0M399.1 211.1h0M399.5 214.3h0M393.8 217.8h0M386.1 224.5h0M404.7 209.6h0M430.4 194.3h0M404.8 209.7h0M392.2 220.6h0M392.0 220.9h0M403.3 210.8h0M398.3 210.5h0M392.8 220.8h0M405.4 209.9h0M397.4 213.0h0M414.5 199.7h0M398.7 211.7h0M417.6 203.7h0M393.7 221.0h0M437.0 184.3h0M399.1 215.8h0M408.3 206.4h0M385.7 224.2h0M414.0 200.1h0M402.9 212.1h0M398.2 218.4h0M413.0 204.2h0M396.8 218.2h0M409.9 204.6h0M413.5 205.0h0M389.4 222.1h0M398.8 214.0h0M399.6 211.7h0M407.0 207.0h0M404.1 210.6h0M391.9 220.5h0M400.3 215.6h0M428.3 186.3h0M407.6 210.1h0M391.4 219.0h0M414.7 205.7h0M431.6 191.6h0M407.4 209.8h0M414.5 205.1h0M397.8 214.0h0M414.9 204.6h0M392.4 218.7h0M399.4 211.2h0M419.6 194.4h0M406.1 206.8h0M389.2 222.2h0M390.2 221.7h0M425.8 186.9h0M396.9 214.7h0M395.3 216.4h0M405.5 212.3h0M387.0 225.3h0M392.3 220.8h0M403.6 206.6h0M394.2 220.7h0M400.1 214.4h0M398.6 214.3h0M395.8 216.7h0M397.7 216.2h0M399.5 216.3h0M403.3 214.1h0M403.7 206.8h0M390.3 219.8h0M411.4 205.6h0M405.8 205.9h0M406.2 203.0h0M387.3 223.7h0M406.4 205.1h0M402.7 214.1h0M395.6 214.4h0M401.0 215.3h0M408.7 204.2h0M406.2 203.2h0M408.1 204.6h0M425.8 192.7h0M428.6 188.3h0M399.0 210.5h0M396.2 215.8h0M396.3 217.8h0M412.0 202.2h0M393.7 216.6h0M386.7 223.7h0M404.6 206.4h0M399.5 214.6h0M401.5 211.8h0M405.3 211.6h0M391.3 221.9h0M400.5 211.8h0M397.2 217.8h0M403.7 213.5h0M414.8 200.3h0M399.8 215.7h0M392.9 219.0h0M415.1 200.5h0M397.9 212.9h0M387.6 222.7h0M392.7 220.4h0M401.1 213.2h0M405.5 207.5h0M395.2 216.1h0M404.1 204.7h0M394.4 218.1h0M396.0 216.9h0M405.2 212.2h0M397.2 213.5h0M401.0 216.0h0M409.4 207.9h0M413.0 197.2h0M394.7 220.3h0M397.3 217.6h0M389.9 222.0h0M390.1 220.4h0M402.5 213.4h0M395.1 218.2h0M405.0 207.9h0M392.9 222.1h0M396.8 213.3h0M403.7 207.0h0M403.5 205.1h0M399.0 213.9h0M386.7 223.9h0M405.4 213.1h0M389.4 222.5h0M385.9 225.4h0M415.7 199.6h0M400.8 212.8h0M398.8 217.9h0M389.1 224.1h0M406.8 203.4h0M411.0 203.0h0M404.9 209.0h0M426.2 189.6h0M393.2 216.6h0M395.7 218.8h0M409.5 210.1h0M401.2 213.6h0M401.6 214.5h0M410.1 209.3h0M407.6 205.8h0M400.7 216.2h0M393.8 220.4h0M397.8 211.1h0M391.2 222.7h0M386.9 223.3h0M395.4 217.1h0M409.6 206.6h0M399.8 211.6h0M404.5 207.4h0M394.4 216.9h0M392.4 220.5h0M397.1 218.3h0M397.1 214.6h0M402.6 210.7h0M400.7 208.0h0M397.7 217.2h0M388.4 223.8h0M400.8 214.8h0M394.3 219.2h0M401.7 211.4h0M394.4 216.7h0M399.0 215.0h0M405.1 206.4h0M392.3 218.2h0M401.8 213.9h0M405.4 211.5h0M408.7 209.1h0M412.7 199.6h0M405.6 211.5h0M384.3 226.1h0M392.3 217.2h0M417.8 194.8h0M400.9 211.3h0M385.8 225.1h0M396.2 213.3h0M387.5 224.2h0M405.9 208.4h0M412.0 196.6h0M400.1 213.1h0M390.1 222.4h0M402.7 212.9h0M389.4 220.4h0M413.6 200.1h0M410.4 207.3h0M400.9 214.8h0M391.1 218.5h0M394.5 216.8h0M390.7 220.6h0M391.9 218.2h0M409.6 208.0h0M405.3 207.8h0M395.2 219.4h0M405.3 209.3h0M393.1 217.1h0M402.0 214.9h0M409.3 201.2h0M398.2 213.4h0M395.9 219.8h0M396.2 214.7h0M397.2 219.0h0M389.7 219.8h0M396.3 218.2h0M391.8 222.3h0M400.1 211.3h0M389.4 221.2h0M402.6 214.6h0M396.8 217.7h0M401.4 214.4h0M402.7 212.8h0M403.6 208.5h0M398.0 212.5h0M419.8 199.1h0M400.1 211.5h0M388.3 223.9h0M391.1 220.8h0M414.5 200.1h0M394.5 218.5h0M399.8 213.3h0M391.9 222.0h0M409.7 206.7h0M397.7 216.3h0M396.1 219.2h0M398.5 215.6h0M432.6 179.8h0M409.3 205.3h0M390.7 222.4h0M394.6 220.7h0M402.9 213.9h0M387.6 223.5h0M416.6 202.3h0M402.7 209.8h0M398.2 213.8h0M395.7 218.7h0M417.5 197.0h0M407.4 207.1h0M415.1 200.3h0M397.3 218.3h0M390.9 219.0h0M394.9 214.7h0M407.7 203.0h0M412.7 204.5h0M397.5 215.3h0M400.2 208.2h0M398.7 213.6h0M393.1 218.6h0M407.3 209.5h0M397.8 213.1h0M386.0 226.7h0M398.9 216.7h0M387.2 223.4h0M407.6 209.2h0M395.6 216.3h0M401.5 209.6h0M401.0 213.6h0M398.6 216.6h0M403.6 206.0h0M398.8 212.8h0M395.9 216.0h0M393.5 219.6h0M422.3 192.2h0M401.8 211.7h0M407.8 207.1h0M396.6 218.4h0M396.6 216.4h0M411.9 202.2h0M407.2 202.2h0M399.7 210.2h0M404.6 211.5h0M392.9 219.0h0M391.9 220.1h0M398.9 214.4h0M392.9 217.4h0M391.8 221.4h0M399.3 212.9h0M410.4 201.0h0M392.2 221.7h0M399.8 209.2h0M393.0 217.4h0M396.3 213.0h0M393.1 217.5h0M393.9 219.3h0M415.2 199.4h0M396.8 212.5h0M398.2 216.6h0M403.8 208.5h0M397.1 214.4h0M409.5 203.8h0M392.8 222.0h0M393.1 220.6h0M405.5 208.3h0M405.0 205.5h0M406.0 208.0h0M400.3 211.9h0M398.2 214.9h0M395.8 218.4h0M401.0 211.2h0M389.2 222.5h0M404.6 208.8h0M402.4 211.6h0M406.7 208.1h0M384.4 226.5h0M397.8 214.6h0M400.7 210.3h0M408.9 201.3h0M400.9 215.0h0M405.6 209.7h0M403.3 209.2h0M401.2 212.6h0M398.6 215.6h0M407.5 211.5h0M404.1 213.5h0M396.3 215.1h0M412.7 198.5h0M394.1 216.3h0M397.9 216.4h0M401.3 212.2h0M387.6 222.9h0M409.4 202.8h0M408.9 206.3h0M391.2 219.6h0M393.4 215.6h0M391.9 219.7h0M397.9 218.0h0M399.4 212.6h0M389.0 223.6h0M400.7 209.7h0M394.5 218.5h0M398.4 217.8h0M388.1 222.0h0M399.0 213.0h0M391.3 219.3h0M415.3 196.7h0M413.1 204.8h0M387.7 224.1h0M401.5 215.3h0M405.3 208.5h0M406.9 211.9h0M401.5 209.5h0M395.7 216.6h0M405.2 212.9h0M413.7 206.6h0M395.9 215.9h0M397.6 217.6h0M386.6 224.3h0M404.5 206.4h0M398.0 217.7h0M408.3 202.5h0M392.9 216.5h0M408.6 205.4h0M416.9 198.5h0M390.9 218.9h0M391.2 221.7h0M399.9 210.6h0M388.3 221.6h0M401.9 212.8h0M411.1 201.1h0M388.0 222.5h0M402.0 208.9h0M404.8 211.8h0M388.1 221.7h0M390.6 220.7h0M408.7 207.8h0M422.6 191.5h0M400.7 211.4h0M416.0 193.5h0M400.7 214.6h0M409.3 206.1h0M404.6 205.0h0M420.7 195.5h0M414.7 203.1h0M427.3 188.8h0M400.3 213.2h0M413.8 193.6h0M410.9 207.0h0M437.4 179.6h0M391.3 218.9h0M399.2 213.7h0M393.7 217.0h0M406.7 207.6h0M406.6 211.5h0M396.6 218.3h0M393.4 219.0h0M404.0 207.6h0M416.6 204.8h0M403.9 211.7h0M390.1 224.1h0M395.9 215.5h0M408.3 207.0h0M392.0 220.4h0M404.5 208.8h0M398.8 214.8h0M411.9 206.1h0M409.0 199.4h0M406.8 209.6h0M395.2 214.9h0M392.3 221.5h0M397.5 212.9h0M402.7 207.5h0M399.1 210.9h0M403.5 211.8h0M402.0 212.5h0M394.8 217.1h0M406.1 206.5h0M393.9 219.0h0M397.2 213.5h0M382.8 226.8h0M414.4 205.4h0M400.1 212.9h0M398.0 216.7h0M438.1 177.5h0M396.7 213.0h0M409.6 207.6h0M404.5 209.2h0M398.9 210.3h0M397.9 211.6h0M385.6 225.7h0M395.9 217.8h0M414.8 200.2h0M401.9 213.0h0M409.3 198.5h0M407.0 205.4h0M430.9 191.0h0M409.7 208.4h0M398.5 212.5h0M410.4 202.5h0M399.7 214.7h0M399.0 210.8h0M388.2 223.1h0M397.5 213.9h0M390.6 221.4h0M408.0 207.7h0M425.0 188.4h0M391.6 217.9h0M401.7 212.4h0M411.2 204.8h0M428.3 189.4h0M391.7 220.3h0M397.9 214.3h0M401.6 210.2h0M399.3 212.6h0M388.8 223.7h0M391.0 221.9h0M399.4 213.0h0M390.3 223.5h0M387.5 225.0h0M395.9 218.4h0M418.9 200.6h0M413.6 199.8h0M396.9 216.3h0M416.1 205.2h0M401.2 212.7h0M396.2 214.9h0M411.7 199.4h0M401.5 214.7h0M402.6 212.3h0M395.4 215.8h0M392.9 220.5h0M408.7 204.8h0M391.1 219.6h0M405.4 212.7h0M394.1 216.8h0M391.1 220.7h0M413.8 205.4h0M403.0 211.9h0M398.7 214.1h0M392.8 216.8h0M391.1 220.3h0M412.9 197.8h0M406.5 209.5h0M390.2 220.2h0M388.9 222.9h0M407.2 203.7h0M409.1 199.9h0M412.1 205.4h0M396.3 219.0h0M391.0 219.9h0M399.3 212.7h0M398.1 214.5h0M398.4 215.1h0M393.2 221.0h0M396.7 212.4h0M388.7 222.3h0M406.4 205.7h0M393.1 218.5h0M416.3 198.7h0M388.8 222.5h0M417.9 201.9h0M392.9 220.4h0M392.9 220.5h0M402.9 212.3h0M410.3 202.1h0M399.6 216.5h0M396.8 216.0h0M428.9 181.6h0M390.9 220.9h0M397.6 217.9h0M422.9 194.4h0M409.3 203.7h0M429.8 188.6h0M395.0 216.5h0M403.8 214.1h0M394.4 215.0h0M390.2 219.5h0M401.4 213.5h0M412.4 202.5h0M395.0 215.4h0M391.4 220.8h0M401.8 215.2h0M392.9 219.7h0M398.8 212.7h0M391.9 221.1h0M383.9 226.4h0M389.5 223.1h0M400.1 209.1h0M391.7 219.0h0M398.6 217.2h0M399.4 216.9h0M412.4 201.3h0M396.8 217.5h0M396.4 219.0h0M405.2 211.9h0M421.3 197.2h0M403.3 213.0h0M398.1 217.6h0M389.0 222.7h0M399.1 217.1h0M397.5 214.5h0M397.6 212.5h0M396.9 213.0h0M403.2 208.1h0M396.8 212.5h0M426.1 191.9h0M397.5 216.8h0M411.8 205.0h0M397.8 211.7h0M409.6 208.5h0M400.5 214.1h0M393.7 219.8h0M394.3 218.9h0M403.3 211.3h0M424.6 195.5h0M405.7 206.2h0M393.4 219.1h0M402.5 213.3h0M390.3 221.4h0M393.5 217.6h0M399.9 209.3h0M393.8 218.0h0M397.5 214.4h0M411.7 205.8h0M398.8 212.3h0M394.0 216.1h0M390.7 222.9h0M395.4 214.6h0M399.2 216.4h0M398.6 215.7h0M409.4 203.3h0M411.7 204.9h0M396.8 215.4h0M392.7 219.4h0M396.7 214.9h0M408.0 201.8h0M403.2 208.2h0M395.1 218.6h0M410.0 206.7h0M390.6 219.8h0M391.8 218.3h0M391.0 222.9h0M391.6 220.8h0M397.6 213.8h0M393.1 220.9h0M393.7 216.9h0M416.6 202.5h0M389.4 223.9h0M397.7 217.3h0M404.5 208.7h0M405.0 211.2h0M397.5 215.8h0M396.7 215.5h0M397.5 216.0h0M408.1 208.2h0M392.6 219.2h0M401.7 210.2h0M391.1 220.5h0M399.3 215.7h0M417.4 194.5h0M400.8 213.2h0M425.5 194.8h0M388.8 222.4h0M402.3 206.9h0M403.9 212.3h0M393.9 217.5h0M401.5 211.7h0M400.8 213.9h0M405.6 209.0h0M403.5 212.2h0M400.3 215.5h0M412.8 197.9h0M391.2 223.1h0M412.0 203.6h0M406.4 204.0h0M407.8 207.6h0M395.8 217.2h0M412.2 198.7h0M419.4 196.6h0M396.2 212.9h0M398.9 216.3h0M409.2 204.6h0M395.8 216.4h0M407.1 207.0h0M439.1 179.9h0M406.9 208.1h0M400.7 211.7h0M399.7 211.4h0M391.0 219.8h0M396.2 219.2h0M402.3 212.4h0M401.4 214.5h0M420.6 199.5h0M402.0 208.0h0M398.6 216.2h0M387.8 223.6h0M404.4 207.4h0M407.8 202.5h0M394.0 218.5h0M396.9 213.6h0M394.6 217.2h0M413.2 200.9h0M407.2 205.8h0M415.6 200.1h0M391.2 220.6h0M392.3 218.4h0M402.3 213.8h0M395.6 214.9h0M426.1 194.5h0M396.7 218.6h0M394.6 216.9h0M411.8 205.5h0M393.5 217.4h0M396.1 216.1h0M397.1 217.0h0M423.9 192.7h0M416.0 199.1h0M413.0 199.4h0M416.2 201.3h0M400.4 215.7h0M410.3 207.9h0M399.6 212.9h0M394.0 220.2h0M388.1 223.1h0M400.2 209.0h0M395.3 216.3h0M396.8 215.5h0M393.4 220.4h0M408.5 204.1h0M409.2 203.5h0M396.1 217.1h0M394.9 215.1h0M406.2 207.9h0M393.9 221.2h0M395.6 214.3h0M391.3 220.9h0M391.0 219.8h0M411.1 202.1h0M391.8 222.1h0M385.2 224.7h0M402.8 213.5h0M396.0 218.3h0M405.7 204.3h0M405.5 212.3h0M396.2 219.0h0M395.2 214.8h0M393.6 218.2h0M401.8 213.6h0M417.2 190.8h0M394.3 217.4h0M394.6 217.3h0M406.4 212.0h0M406.9 202.7h0M418.1 201.8h0M407.6 208.9h0M390.3 221.1h0M401.6 210.4h0M417.3 199.2h0M393.3 218.8h0M395.2 219.1h0M409.9 209.7h0M386.7 224.7h0M403.7 211.9h0M401.8 212.7h0M414.0 194.8h0M397.5 218.6h0M398.2 214.0h0M391.6 219.7h0M400.4 210.5h0M395.3 218.8h0M400.8 213.6h0M384.6 225.6h0M401.0 213.5h0M394.8 215.0h0M400.4 214.7h0M410.6 199.2h0M415.3 199.9h0M410.0 206.7h0M411.1 203.5h0M403.7 210.7h0M400.3 211.0h0M408.5 208.3h0M401.1 207.5h0M412.5 205.6h0M421.6 189.7h0M393.8 215.4h0M408.8 210.1h0M401.7 208.7h0M403.1 210.9h0M405.7 208.7h0M385.9 224.6h0M404.9 205.7h0M413.8 204.9h0M404.2 209.0h0M413.7 203.5h0M391.1 223.0h0M399.4 212.4h0M403.4 210.1h0M397.7 214.8h0M414.5 205.7h0M405.1 209.5h0M409.2 200.8h0M409.2 208.9h0M406.8 207.8h0M403.9 208.4h0M403.7 211.6h0M390.7 218.9h0M415.8 199.0h0M407.1 203.3h0M403.6 210.0h0M403.4 211.9h0M397.3 212.7h0M401.0 211.5h0M395.9 216.4h0M391.2 222.4h0M397.5 212.0h0M402.1 212.8h0M400.5 210.0h0M397.2 215.2h0M396.3 215.2h0M389.3 223.6h0M394.0 220.7h0M389.3 223.6h0M404.1 204.9h0M402.5 210.6h0M395.6 218.1h0M420.7 188.8h0M398.9 211.9h0M394.5 219.0h0M426.1 187.7h0M395.4 216.6h0M405.8 209.6h0M403.7 210.2h0M420.6 200.3h0M389.0 221.1h0M402.9 210.8h0M404.8 211.7h0M394.5 218.7h0M396.0 216.9h0M394.0 219.7h0M409.4 201.8h0M399.2 212.4h0M405.5 212.2h0M392.0 222.2h0M397.9 212.6h0M423.3 193.8h0M401.4 214.7h0M390.0 220.6h0M389.0 222.2h0M396.3 214.7h0M391.2 220.9h0M436.8 186.5h0M404.9 203.1h0M414.4 199.3h0M412.8 198.9h0M405.6 209.1h0M390.8 220.9h0M414.8 205.4h0M395.7 215.7h0M392.3 221.3h0M400.8 211.2h0M414.5 198.5h0M405.2 208.4h0M401.3 210.5h0M392.5 220.9h0M410.2 203.5h0M387.4 224.4h0M408.5 202.9h0M390.7 220.5h0M394.7 215.6h0M390.0 220.8h0M392.5 219.9h0M418.7 203.0h0M390.8 220.1h0M401.4 215.1h0M393.1 219.4h0M411.4 208.4h0M399.5 210.8h0M409.7 202.2h0M434.0 181.8h0M390.7 218.9h0M399.0 211.7h0M391.6 221.0h0M408.5 206.2h0M391.5 222.3h0M400.6 212.1h0M410.6 196.9h0M398.4 212.4h0M386.1 227.1h0M394.7 216.7h0M410.4 205.5h0M409.1 205.8h0M402.0 210.1h0M418.1 195.4h0M390.1 220.8h0M436.8 184.4h0M406.5 205.0h0M397.5 218.1h0M395.2 215.0h0M384.4 225.4h0M408.6 205.6h0M386.2 224.8h0M386.6 223.4h0M398.8 214.4h0M418.7 200.7h0M403.0 211.3h0M395.5 214.4h0M403.3 206.3h0M430.3 190.9h0M391.8 220.3h0M405.2 213.3h0M386.3 225.1h0M423.6 186.3h0M403.7 210.4h0M428.3 178.4h0M393.9 216.9h0M411.4 204.5h0M397.7 217.9h0M398.9 216.5h0M415.4 203.7h0M392.3 217.1h0M407.5 208.9h0M427.3 189.3h0M423.4 199.1h0M412.0 206.7h0M402.8 211.9h0M391.9 220.9h0M417.9 197.5h0M393.9 217.7h0M414.2 204.9h0M399.5 212.7h0M395.7 217.6h0M401.3 209.2h0M395.1 219.0h0M405.2 205.8h0M404.0 210.3h0M392.8 221.4h0M402.9 208.7h0M400.0 210.8h0M405.8 202.5h0M400.1 210.4h0M392.0 218.5h0M407.6 207.8h0M394.0 220.1h0M402.4 215.1h0M386.3 226.8h0M404.8 211.9h0M406.7 209.7h0M392.3 222.7h0M396.3 218.5h0M417.1 202.9h0M406.7 209.7h0M390.3 222.2h0M397.7 213.9h0M387.6 224.0h0M396.7 216.5h0M405.3 207.5h0M408.9 207.9h0M398.5 210.8h0M401.1 213.3h0M394.5 215.7h0M402.9 213.1h0M413.0 194.4h0M401.5 209.0h0M409.4 204.7h0M393.3 217.2h0M395.4 214.2h0M403.1 213.2h0M411.6 202.6h0M423.2 194.8h0M400.2 215.3h0M415.2 194.7h0M405.4 208.8h0M386.4 224.8h0M415.1 195.8h0M405.0 206.4h0M414.2 201.8h0M404.1 211.3h0M393.8 216.0h0M401.9 210.3h0M419.8 189.3h0M406.9 207.4h0M395.3 213.8h0M395.1 214.5h0M394.1 220.4h0M398.1 213.8h0M399.2 213.8h0M395.8 217.9h0M400.1 216.7h0M421.0 194.9h0M420.4 201.7h0M403.0 208.4h0M400.9 207.8h0M402.3 207.8h0M396.7 218.2h0M393.3 220.7h0M392.2 221.0h0M410.6 205.3h0M400.5 216.4h0M400.6 214.8h0M397.9 216.0h0M393.2 220.2h0M405.1 206.0h0M397.1 211.8h0M412.1 199.5h0M400.1 215.5h0M394.2 217.7h0M417.4 199.1h0M407.2 207.9h0M414.2 206.4h0M401.7 210.2h0M393.5 216.8h0M397.8 214.9h0M404.3 204.2h0M419.7 186.7h0M409.4 208.9h0M397.9 213.6h0M414.2 194.5h0M414.6 200.8h0M400.0 211.7h0M423.5 193.1h0M396.1 216.0h0M400.2 215.8h0M399.3 214.5h0M395.6 218.2h0M387.8 224.1h0M447.2 179.1h0M400.2 212.8h0M404.5 210.5h0M412.5 204.0h0M406.1 204.5h0M409.0 198.8h0M393.7 218.9h0M408.9 207.7h0M415.0 202.2h0M400.0 214.8h0M399.3 214.3h0M425.7 191.2h0M395.2 214.9h0M408.9 200.3h0M397.4 213.0h0M391.6 220.5h0M405.0 210.2h0M402.5 213.7h0M405.5 206.9h0M397.1 214.0h0M395.9 215.2h0M388.8 224.6h0M396.4 214.8h0M393.9 219.2h0M406.1 211.2h0M399.4 214.9h0M408.4 204.3h0M393.1 221.2h0M390.6 218.9h0M404.8 207.8h0M394.3 218.9h0M399.8 214.7h0M397.3 212.3h0M402.7 207.8h0M401.5 208.1h0M392.4 220.5h0M393.3 217.7h0M409.6 201.6h0M407.7 208.8h0M406.4 203.7h0M396.5 217.1h0M392.1 217.9h0M414.0 196.9h0M405.7 205.6h0M392.6 220.0h0M394.4 216.1h0M408.2 202.2h0M392.2 221.0h0M402.9 213.4h0M415.0 192.6h0M435.3 178.0h0M419.7 200.6h0M394.5 216.6h0M402.0 210.6h0M395.9 216.5h0M401.4 210.1h0M408.7 209.3h0M400.0 216.3h0M400.6 213.1h0M390.2 223.7h0M406.2 208.3h0M399.9 210.1h0M406.7 208.5h0M412.2 197.7h0M407.6 209.7h0M394.9 217.0h0M399.8 209.4h0M395.0 218.4h0M397.9 213.5h0M389.7 223.3h0M394.6 218.2h0M396.3 217.0h0M400.2 210.7h0M399.2 217.3h0M394.6 216.6h0M398.3 218.0h0M386.4 225.1h0M400.8 210.6h0M405.9 209.7h0M412.6 205.7h0M398.1 217.3h0M401.1 216.2h0M416.6 197.9h0M395.7 217.8h0M402.6 214.2h0M392.2 218.6h0M404.1 208.0h0M389.9 221.7h0M396.8 212.6h0M388.5 222.2h0M393.5 218.6h0M406.7 205.1h0M397.2 217.5h0M392.3 218.7h0M396.2 217.8h0M400.9 210.0h0M397.4 214.1h0M399.8 216.8h0M409.0 206.2h0M394.9 217.0h0M390.1 220.0h0M410.0 203.5h0M403.3 210.5h0M396.6 216.8h0M396.8 212.8h0M400.6 215.2h0M389.8 220.9h0M395.9 213.1h0M405.7 208.7h0M401.4 213.9h0M402.4 212.6h0M409.1 208.1h0M399.5 209.8h0M432.7 190.3h0M386.9 225.2h0M393.8 218.5h0M396.8 217.8h0M421.9 195.5h0M408.0 206.7h0M404.1 206.2h0M399.7 215.4h0M409.2 209.1h0M404.9 207.4h0M418.5 202.7h0M404.2 208.5h0M411.8 202.6h0M404.1 211.1h0M403.3 211.2h0M404.0 207.2h0M390.0 221.4h0M397.3 213.9h0M402.9 212.0h0M388.4 223.3h0M411.0 205.9h0M397.8 218.6h0M402.4 209.7h0M404.8 206.8h0M394.6 218.3h0M404.6 209.8h0M390.8 222.1h0M409.8 207.2h0M409.7 206.9h0M397.6 215.1h0M390.2 222.0h0M392.0 222.0h0M393.0 216.7h0M405.7 212.1h0M396.6 215.4h0M390.7 223.3h0M390.8 220.4h0M394.5 216.9h0M407.1 202.3h0M405.6 209.9h0M399.9 210.7h0M416.6 191.8h0M399.2 215.3h0M390.9 222.8h0M398.6 213.9h0M416.8 204.6h0M413.4 202.4h0M414.2 206.4h0M413.2 195.7h0M395.7 214.3h0M402.8 210.7h0M402.7 212.2h0M410.0 197.4h0M392.2 220.9h0M408.6 208.1h0M406.6 209.8h0M418.9 198.9h0M385.5 224.9h0M404.1 207.3h0M412.3 197.4h0M387.4 222.4h0M427.0 195.4h0M411.0 202.5h0M403.1 207.3h0M412.9 199.4h0M420.2 196.0h0M401.4 214.7h0M403.4 209.6h0M387.6 225.3h0M393.5 217.3h0M407.9 200.9h0M405.6 206.4h0M402.0 213.2h0M406.1 211.9h0M388.3 224.0h0M397.3 218.6h0M390.8 220.5h0M399.5 211.2h0M393.4 219.6h0M399.2 212.4h0M393.0 220.1h0M433.7 176.4h0M395.1 217.3h0M400.3 212.9h0M400.4 211.0h0M404.5 207.1h0M398.3 213.5h0M403.5 209.4h0M398.7 212.2h0M391.6 218.3h0M398.0 211.6h0M395.5 213.6h0M400.8 210.5h0M402.2 210.2h0M399.9 215.8h0M413.9 203.5h0M402.2 213.1h0M423.3 191.9h0M420.3 198.9h0M391.6 220.0h0M405.7 209.2h0M423.1 188.3h0M415.4 201.9h0M400.7 208.9h0M394.9 218.1h0M398.1 213.1h0M392.2 221.3h0M393.7 219.3h0M392.1 219.0h0M392.0 222.9h0M402.1 212.1h0M387.9 222.1h0M401.4 215.6h0M407.2 207.1h0M392.4 219.2h0M392.6 218.1h0M400.0 215.6h0M399.4 210.7h0M399.1 213.2h0M417.5 198.6h0M424.0 183.6h0M432.6 188.4h0M395.2 218.6h0M419.2 194.2h0M405.3 206.0h0M399.7 215.6h0M397.3 216.8h0M392.6 220.2h0M398.3 214.2h0M415.3 204.2h0M396.5 212.3h0M405.4 206.6h0M385.4 225.6h0M407.7 203.8h0M390.7 219.1h0M409.3 199.6h0M422.4 196.6h0M391.4 218.5h0M392.8 220.7h0M392.4 220.6h0M395.3 216.8h0M393.1 219.1h0M388.5 223.4h0M424.1 192.1h0M410.0 205.5h0M396.6 217.7h0M412.5 203.2h0M411.1 207.2h0M396.3 215.3h0M406.6 208.4h0M389.8 220.1h0M400.4 213.4h0M397.1 217.8h0M416.6 197.3h0M397.4 211.9h0M400.4 213.1h0M397.2 213.0h0M401.7 212.2h0M391.0 218.8h0M393.5 218.1h0M400.4 215.5h0M408.0 206.6h0M404.0 209.1h0M408.1 208.1h0M397.9 216.4h0M402.0 210.3h0M402.5 211.9h0M397.7 217.1h0M399.1 215.7h0M389.6 223.7h0M407.7 206.8h0M399.9 211.0h0M389.3 221.6h0M413.0 206.1h0M405.7 210.3h0M394.4 218.9h0M387.2 223.3h0M391.9 222.2h0M392.1 219.4h0M424.1 192.2h0M405.8 205.5h0M409.4 208.9h0M404.6 207.2h0M414.7 192.5h0M424.9 186.4h0M389.9 222.0h0M402.7 213.1h0M405.5 212.7h0M421.2 195.7h0M402.9 207.1h0M414.8 204.4h0M414.2 200.1h0M401.6 210.2h0M393.9 216.2h0M402.1 212.0h0M398.9 216.3h0M411.7 201.5h0M399.3 214.1h0M408.9 205.2h0M395.4 219.6h0M410.9 208.0h0M401.8 215.2h0M401.3 213.7h0M406.8 205.5h0M403.0 208.3h0M396.4 215.6h0M394.8 217.9h0M398.0 216.9h0M390.6 222.6h0M395.7 217.7h0M418.4 197.5h0M395.0 218.4h0M437.4 179.2h0M413.8 206.1h0M413.7 202.5h0M414.9 199.4h0M406.8 204.7h0M389.1 223.7h0M413.5 204.3h0M401.0 216.1h0M385.7 225.3h0M413.5 202.2h0M393.0 218.6h0M417.5 201.4h0M404.5 209.0h0M395.7 216.9h0M424.2 195.5h0M399.0 213.4h0M403.4 213.8h0M405.8 209.7h0M388.6 221.9h0M399.7 209.0h0M394.9 219.5h0M403.9 211.1h0M389.8 223.7h0M389.7 222.4h0M402.2 211.3h0M408.1 208.4h0M407.5 203.6h0M409.6 206.5h0M425.6 194.4h0M401.9 213.0h0M401.3 212.6h0M406.7 210.3h0M396.1 216.4h0M390.9 222.1h0M390.9 219.9h0M402.0 213.5h0M396.6 214.7h0M429.3 183.7h0M399.6 210.4h0M392.6 221.1h0M415.8 204.8h0M399.4 215.2h0M411.7 205.6h0M401.9 211.8h0M407.8 209.0h0M394.9 218.6h0M397.5 216.6h0M395.6 218.4h0M396.7 219.4h0M399.9 215.2h0M419.7 200.9h0M402.7 212.9h0M401.1 216.3h0M417.3 202.6h0M402.2 210.1h0M409.3 198.7h0M413.2 201.8h0M400.8 215.4h0M408.6 209.6h0M391.4 218.8h0M419.7 196.3h0M404.4 212.4h0M417.5 203.2h0M421.8 194.5h0M413.1 201.1h0M406.4 205.7h0M400.6 213.2h0M392.5 217.4h0M407.7 208.3h0M397.2 219.0h0M393.7 218.2h0M414.3 202.0h0M403.7 211.3h0M394.9 217.3h0M412.6 207.6h0M402.8 214.2h0M405.3 213.0h0M399.1 213.0h0M389.8 224.1h0M391.9 219.7h0M396.6 213.5h0M403.2 210.7h0M387.5 224.4h0M407.0 208.0h0M401.5 208.1h0M401.3 211.2h0M394.2 218.3h0M393.1 218.6h0M418.8 194.8h0M406.4 204.6h0M391.5 220.6h0M400.9 214.5h0M390.7 222.0h0M404.9 212.5h0M388.2 221.4h0M411.9 204.7h0M407.8 205.7h0M404.1 209.2h0M402.6 207.1h0M395.9 218.1h0M387.2 223.5h0M417.6 200.1h0M431.0 193.7h0M406.2 204.9h0M407.6 208.1h0M390.4 220.4h0M396.9 212.2h0M390.1 221.5h0M390.7 220.7h0M419.4 195.9h0M400.0 212.8h0M410.2 207.3h0M386.2 224.8h0M417.4 198.1h0M416.9 204.0h0M391.4 218.4h0M404.2 208.2h0M433.2 182.1h0M409.3 208.8h0M393.7 215.6h0M392.9 218.3h0M412.2 207.2h0M389.6 224.4h0M425.4 190.7h0M391.0 220.1h0M414.1 202.7h0M399.9 214.2h0M392.1 221.1h0M410.0 208.5h0M432.9 188.9h0M392.3 220.7h0M406.8 206.4h0M394.5 215.5h0M404.4 211.1h0M398.1 218.3h0M406.0 208.2h0M403.6 210.9h0M398.9 211.3h0M393.9 218.1h0M397.2 215.4h0M398.8 214.6h0M398.3 217.4h0M383.8 226.7h0M383.2 226.9h0M390.8 219.2h0M390.2 223.3h0M393.6 218.8h0M417.0 198.0h0M390.3 222.1h0M410.0 205.5h0M416.8 200.8h0M410.7 204.4h0M400.9 214.7h0M413.4 206.2h0M402.7 212.4h0M391.7 220.7h0M405.8 212.6h0M405.9 210.1h0M399.4 214.1h0M403.2 209.1h0M396.7 218.0h0M404.0 213.1h0M398.1 215.1h0M389.4 224.3h0M398.2 213.1h0M420.8 193.6h0M400.7 211.4h0M397.0 217.9h0M392.2 219.7h0M402.2 209.0h0M409.1 201.7h0M396.2 215.0h0M401.7 209.7h0M394.1 216.0h0M410.2 208.9h0M407.3 208.2h0M395.2 214.3h0M401.9 211.7h0M393.8 215.5h0M397.3 216.9h0M407.3 205.8h0M394.8 218.3h0M422.3 195.6h0M430.9 186.9h0M419.7 199.3h0M401.1 209.2h0M418.7 191.6h0M391.8 217.9h0M403.2 207.6h0M393.5 220.4h0M425.9 190.1h0M389.8 222.7h0M386.9 223.2h0M396.9 213.4h0M423.1 186.1h0M409.0 207.3h0M404.1 208.7h0M401.9 207.8h0M406.6 207.1h0M403.8 207.1h0M401.5 210.1h0M399.3 215.0h0M389.0 220.8h0M411.9 207.3h0M396.6 217.8h0M404.4 205.0h0M393.9 218.1h0M409.9 209.4h0M410.2 201.4h0M401.9 208.9h0M392.3 219.9h0M396.4 217.5h0M391.6 221.1h0M393.9 217.0h0M391.9 217.7h0M401.9 214.8h0M406.1 209.0h0M397.0 216.2h0M404.7 213.0h0M410.1 204.8h0M388.7 221.2h0M410.8 204.9h0M396.4 218.9h0M398.0 216.6h0M408.3 202.6h0M419.0 202.1h0M431.6 191.5h0M417.8 197.8h0M396.7 216.1h0M401.6 207.7h0M395.2 216.7h0M406.6 206.6h0M398.0 215.9h0M425.4 194.5h0M390.7 220.0h0M395.8 214.3h0M394.3 216.7h0M408.1 206.6h0M418.2 198.3h0M412.4 203.3h0M394.5 217.0h0M393.7 218.6h0M400.6 208.7h0M403.2 209.0h0M412.5 198.9h0M401.2 213.3h0M394.0 219.1h0M407.4 202.8h0M412.4 200.5h0M400.1 215.6h0M395.8 219.8h0M399.2 214.6h0M391.8 219.7h0M409.5 203.2h0M415.5 192.2h0M442.2 184.4h0M397.0 214.2h0M410.4 199.4h0M399.6 212.9h0M387.6 222.5h0M399.4 213.6h0M391.1 220.3h0M398.6 217.7h0M403.5 210.6h0M398.9 212.9h0M406.5 205.1h0M400.7 211.4h0M389.9 223.6h0M407.0 209.5h0M397.9 213.7h0M406.2 202.4h0M406.0 208.6h0M386.4 224.3h0M406.9 205.1h0M386.9 226.8h0M398.7 213.1h0M392.3 219.8h0M413.1 205.3h0M414.1 206.0h0M425.2 180.6h0M417.5 200.7h0M391.4 223.1h0M400.3 212.4h0M431.1 183.6h0M395.0 216.4h0M398.6 217.4h0M407.9 204.8h0M414.0 206.7h0M399.7 213.8h0M398.5 215.7h0M387.8 223.7h0M400.8 212.8h0M397.6 215.8h0M397.1 213.8h0M392.7 222.3h0M405.5 205.0h0M412.2 206.6h0M405.2 208.8h0M401.3 208.6h0M407.2 209.2h0M407.2 205.1h0M397.7 213.5h0M417.9 194.0h0M411.2 205.6h0M398.6 213.8h0M400.9 213.7h0M431.8 187.8h0M394.0 219.2h0M402.9 209.6h0M395.9 217.6h0M394.9 216.5h0M407.6 204.3h0M409.6 204.4h0M405.5 206.3h0M389.5 221.1h0M402.1 213.9h0M412.3 196.8h0M401.2 214.9h0M403.2 209.4h0M400.1 216.3h0M398.4 213.4h0M392.5 220.4h0M435.0 183.8h0M410.8 199.0h0M396.3 214.1h0M401.6 212.4h0M397.1 215.1h0M409.2 209.3h0M394.7 219.9h0M414.3 193.5h0M394.7 219.1h0M421.8 195.2h0M410.2 202.2h0M413.7 200.1h0M397.9 214.0h0M399.2 210.3h0M394.5 220.9h0M393.6 218.4h0M398.0 213.4h0M403.7 211.4h0M394.8 214.4h0M412.4 199.3h0M399.6 212.5h0M407.4 203.6h0M390.3 220.5h0M403.8 209.4h0M391.8 221.7h0M401.4 215.1h0M402.8 214.4h0M389.7 221.2h0M403.3 208.9h0M402.1 208.5h0M402.9 212.0h0M393.0 219.8h0M399.3 213.7h0M421.2 199.1h0M396.3 213.9h0M392.8 222.0h0M413.4 202.6h0M402.6 210.5h0M396.5 216.1h0M400.0 217.0h0M399.8 212.7h0M410.1 199.5h0M394.8 214.7h0M398.1 214.0h0M411.3 205.5h0M415.6 198.6h0M403.3 207.9h0M401.6 214.0h0M395.5 214.3h0M397.5 214.4h0M402.3 214.4h0M398.6 211.1h0M392.3 219.5h0M400.6 214.2h0M391.9 218.0h0M430.6 193.0h0M403.1 212.1h0M395.2 215.7h0M404.9 209.3h0M397.7 215.9h0M420.4 198.6h0M416.0 197.8h0M391.1 219.5h0M391.5 219.0h0M400.6 214.1h0M402.6 210.0h0M395.6 219.0h0M416.6 197.0h0M411.2 198.7h0M388.2 225.1h0M393.2 220.9h0M393.4 219.2h0M390.2 220.6h0M394.7 220.1h0M407.5 208.6h0M401.1 211.0h0M408.0 206.2h0M390.1 223.2h0M419.0 200.0h0M398.7 212.3h0M406.1 205.6h0M403.6 214.0h0M386.2 225.9h0M405.0 203.7h0M388.7 222.4h0M414.0 199.5h0M406.1 212.0h0M389.9 219.8h0M401.5 212.7h0M400.4 214.5h0M398.4 211.9h0M402.5 209.1h0M394.3 218.4h0M408.1 202.6h0M402.1 213.4h0M400.3 214.8h0M395.0 216.7h0M433.4 178.8h0M398.7 214.5h0M394.5 215.0h0M414.8 203.9h0M386.3 224.1h0M392.8 218.7h0M396.0 217.1h0M403.1 207.3h0M403.5 211.0h0M411.5 204.5h0M398.8 212.7h0M393.9 217.8h0M393.0 218.3h0M395.4 217.3h0M395.8 215.2h0M403.0 213.0h0M391.5 218.4h0M394.9 217.1h0M399.7 215.8h0M400.1 212.5h0M406.1 204.1h0M398.0 217.0h0M388.1 222.7h0M416.3 202.8h0M421.8 188.3h0M402.6 213.0h0M403.2 211.8h0M402.7 209.7h0M393.2 219.6h0M405.8 205.0h0M408.2 205.3h0M414.3 195.3h0M393.6 221.3h0M417.5 203.2h0M405.5 210.2h0M409.0 207.0h0M395.5 215.6h0M403.6 208.2h0M409.2 203.6h0M390.9 220.5h0M394.4 217.8h0M402.6 209.8h0M407.4 206.6h0M391.2 221.8h0M406.9 211.2h0M392.2 219.6h0M400.6 210.8h0M395.4 219.7h0M405.6 210.0h0M390.0 222.0h0M409.3 205.5h0M402.0 212.7h0M398.8 212.2h0M414.8 204.9h0M412.2 205.0h0M416.9 204.1h0M407.4 200.4h0M404.0 208.8h0M399.3 215.0h0M393.1 221.7h0M393.3 218.5h0M420.3 194.5h0M416.7 195.9h0M404.6 207.9h0M390.9 223.0h0M427.2 194.9h0M412.6 201.7h0M414.8 201.6h0M397.8 212.1h0M404.2 208.7h0M397.6 216.7h0M397.9 214.7h0M391.3 221.3h0M395.7 214.0h0M400.3 210.2h0M405.7 207.5h0M387.9 222.4h0M411.9 199.2h0M389.4 223.2h0M404.9 209.6h0M398.2 217.0h0M400.5 212.6h0M421.0 189.9h0M416.0 201.4h0M399.7 209.8h0M400.0 215.1h0M391.4 220.1h0M406.0 211.7h0M403.2 210.6h0M408.1 205.0h0M394.3 214.8h0M402.0 210.2h0M407.2 206.4h0M397.8 217.7h0M398.8 217.9h0M398.7 216.9h0M419.8 199.6h0M393.8 218.1h0M385.7 225.2h0M398.7 216.5h0M400.9 214.1h0M407.3 208.6h0M395.1 216.6h0M395.5 216.1h0M388.2 223.4h0M414.7 199.3h0M421.4 198.7h0M396.0 219.1h0M392.7 216.5h0M394.4 217.7h0M390.3 221.6h0M409.1 208.4h0M398.1 210.8h0M395.1 218.8h0M393.6 216.7h0M418.8 199.2h0M406.0 209.6h0M395.6 216.2h0M417.4 193.2h0M418.5 203.1h0M405.7 206.0h0M401.5 212.2h0M390.8 220.5h0M439.2 176.8h0M419.6 198.2h0M407.9 206.7h0M419.4 194.8h0M400.2 216.6h0M391.5 219.2h0M410.9 202.8h0M392.4 217.2h0M395.5 217.8h0M389.0 222.2h0M400.3 214.7h0M398.0 211.7h0M397.4 218.5h0M401.6 208.5h0M389.3 220.6h0M390.6 220.4h0M393.5 215.9h0M411.2 201.1h0M394.4 217.1h0M395.8 220.1h0M393.4 216.3h0M399.9 213.5h0M409.4 206.4h0M407.2 205.7h0M404.8 208.5h0M399.0 216.8h0M392.7 217.5h0M394.8 217.3h0M403.1 212.8h0M391.1 220.5h0M408.6 210.4h0M396.2 214.1h0M404.7 206.3h0M391.4 222.9h0M388.7 222.9h0M406.9 211.6h0M407.5 211.3h0M399.6 214.9h0M407.1 205.3h0M399.9 212.3h0M407.2 201.6h0M401.4 209.6h0M392.4 217.8h0M434.8 178.0h0M398.6 215.4h0M392.7 221.9h0M398.1 216.5h0M400.6 213.9h0M401.4 210.3h0M406.0 205.8h0M386.7 224.3h0M393.2 218.6h0M404.6 211.7h0M413.5 205.7h0M401.1 212.4h0M413.6 193.5h0M423.6 186.7h0M393.8 217.3h0M399.1 209.4h0M395.9 219.6h0M425.1 198.5h0M410.5 204.5h0M401.5 211.1h0M397.0 212.2h0M399.0 212.2h0M416.0 202.0h0M421.7 196.0h0M395.2 219.5h0M399.8 210.1h0M390.9 219.1h0M410.4 199.5h0M398.2 217.5h0M408.4 201.2h0M408.9 205.5h0M406.1 211.8h0M389.5 221.8h0M408.3 200.3h0M388.8 221.7h0M403.3 211.4h0M406.6 210.5h0M391.3 220.7h0M394.9 214.8h0M398.6 212.3h0M402.9 211.9h0M403.2 207.8h0M393.1 219.1h0M441.2 177.2h0M395.3 217.9h0M421.6 197.5h0M391.1 220.2h0M409.8 204.0h0M421.8 193.2h0M406.6 210.3h0M396.2 213.1h0M412.5 204.7h0M406.8 207.0h0M394.3 217.4h0M397.8 212.3h0M401.5 212.1h0M402.1 214.2h0M387.9 223.0h0M389.9 222.1h0M398.4 217.8h0M414.2 204.5h0M400.1 210.9h0M389.4 220.8h0M401.3 215.4h0M397.8 217.9h0M406.3 210.8h0M402.9 210.0h0M394.6 216.2h0M392.0 220.2h0M396.9 213.9h0M399.3 210.9h0M405.2 207.4h0M409.3 205.5h0M402.9 208.1h0M392.0 222.9h0M397.3 213.3h0M432.8 182.8h0M396.8 219.0h0M410.6 203.1h0M392.4 217.2h0M397.2 212.1h0M416.0 201.7h0M411.4 207.8h0M387.9 222.2h0M406.5 211.2h0M397.2 219.1h0M412.7 196.9h0M395.6 219.0h0M393.2 218.2h0M410.5 201.8h0M409.0 207.1h0M438.6 179.7h0M407.0 204.3h0M406.2 202.2h0M404.1 211.7h0M408.8 207.0h0M385.8 225.5h0M431.6 191.1h0M411.5 208.1h0M435.5 180.2h0M410.6 204.9h0M434.2 183.5h0M414.3 200.4h0M399.1 213.4h0M389.7 223.0h0M408.6 209.6h0M398.6 216.5h0M391.8 221.4h0M412.9 197.5h0M422.4 191.4h0M397.4 217.3h0M406.9 200.9h0M399.4 214.5h0M407.2 204.0h0M409.0 199.1h0M387.6 223.7h0M397.2 217.5h0M401.6 213.8h0M417.4 195.7h0M393.7 219.6h0M408.6 206.1h0M395.9 219.7h0M390.6 221.5h0M395.3 218.9h0M392.9 217.4h0M407.1 206.0h0M408.2 203.1h0M410.8 201.5h0M410.2 206.0h0M394.6 215.0h0M394.0 219.0h0M404.7 204.9h0M409.1 205.8h0M403.4 209.2h0M399.2 213.3h0M396.6 214.9h0M403.9 212.4h0M402.7 212.2h0M416.3 199.9h0M396.6 215.7h0M391.1 219.4h0M394.0 216.2h0M400.5 212.5h0M425.4 185.1h0M393.4 219.1h0M394.6 218.6h0M397.0 213.0h0M410.0 201.4h0M418.7 194.2h0M395.6 213.9h0M401.1 213.3h0M413.0 207.2h0M400.0 213.7h0M405.7 212.8h0M400.8 215.7h0M407.4 210.2h0M396.1 219.6h0M397.2 218.0h0M404.9 209.7h0M392.4 217.3h0M409.9 205.7h0M395.4 219.0h0M393.5 217.1h0M407.7 201.8h0M409.1 202.1h0M413.1 205.4h0M393.4 219.4h0M392.8 217.3h0M395.1 217.0h0M411.6 206.0h0M404.7 208.7h0M404.1 205.5h0M405.8 205.1h0M397.6 218.7h0M393.2 220.8h0M408.8 206.0h0M396.1 215.0h0M393.8 219.2h0M431.1 182.8h0M397.8 216.4h0M394.6 217.8h0M415.9 204.5h0M405.5 210.9h0M401.8 211.7h0M406.0 204.0h0M407.8 208.6h0M406.2 203.6h0M408.7 202.7h0M402.4 211.9h0M414.5 196.9h0M410.4 203.9h0M401.2 208.1h0M402.8 213.1h0M398.6 210.4h0M395.0 215.9h0M407.4 203.6h0M391.7 218.6h0M392.9 220.3h0M422.5 196.6h0M400.3 209.8h0M409.8 205.7h0M392.0 218.2h0M400.9 211.4h0M402.2 212.5h0M406.7 203.7h0M411.3 207.1h0M427.8 193.0h0M400.1 216.3h0M400.4 215.9h0M394.9 215.4h0M410.9 201.3h0M399.8 216.4h0M398.4 212.0h0M401.6 209.1h0M401.4 214.3h0M400.6 214.1h0M399.6 210.5h0M414.4 202.3h0M395.1 216.2h0M400.9 215.1h0M400.2 213.5h0M412.3 205.2h0M395.8 219.6h0M398.0 218.2h0M395.9 219.2h0M406.8 208.0h0M401.5 208.2h0M433.3 180.6h0M403.2 208.6h0M387.6 223.4h0M389.9 223.2h0M390.2 222.9h0M389.5 220.1h0M399.5 212.7h0M394.9 216.7h0M405.1 211.0h0M401.2 213.2h0M392.6 222.3h0M423.9 198.8h0M391.6 223.0h0M390.1 222.4h0M410.4 208.2h0M399.1 217.2h0M408.3 205.6h0M404.7 210.3h0M409.8 205.4h0M400.3 213.1h0M391.3 221.1h0M405.5 204.0h0M388.2 223.8h0M405.2 209.1h0M400.6 209.3h0M389.1 221.2h0M405.4 209.5h0M415.2 199.1h0M401.7 208.5h0M391.1 223.1h0M400.1 215.1h0M394.0 219.3h0M411.9 198.2h0M392.3 218.5h0M392.7 217.6h0M394.6 215.8h0M393.2 218.1h0M409.1 209.1h0M424.8 197.3h0M387.6 223.3h0M394.7 220.1h0M408.3 204.5h0M402.3 209.4h0M413.1 204.1h0M389.5 224.0h0M398.7 215.9h0M387.7 224.0h0M412.3 201.2h0M393.2 219.7h0M391.8 217.5h0M408.3 207.0h0M398.4 212.8h0M421.4 194.6h0M411.0 200.2h0M391.3 221.5h0M410.7 202.8h0M409.1 202.6h0M394.0 218.5h0M399.5 214.3h0M390.0 223.2h0M397.1 218.3h0M410.1 204.4h0M410.3 209.2h0M417.8 195.0h0M409.2 208.0h0M405.7 210.9h0M404.9 207.1h0M418.5 196.5h0M395.1 215.5h0M398.3 212.6h0M408.9 205.8h0M392.4 219.1h0M411.6 207.9h0M400.4 215.3h0M405.2 205.7h0M395.0 219.2h0M398.2 217.4h0M391.8 220.0h0M411.9 204.1h0M391.7 221.6h0M412.6 195.5h0M390.0 220.8h0M403.9 213.6h0M389.4 222.1h0M401.9 211.6h0M389.4 223.4h0M424.7 192.5h0M393.9 220.1h0M389.8 220.5h0M389.9 220.1h0M427.5 190.5h0M405.9 209.5h0M393.4 221.4h0M404.0 210.1h0M400.8 211.0h0M389.7 221.2h0M408.0 205.8h0M411.4 208.6h0M393.0 220.7h0M392.7 218.5h0M399.0 212.5h0M390.2 221.7h0M397.5 218.1h0M397.4 215.8h0M417.2 202.6h0M392.2 220.0h0M397.2 217.2h0M416.4 199.9h0M388.3 222.0h0M412.0 201.8h0M406.2 209.5h0M399.9 211.2h0M406.8 209.9h0M382.6 228.6h0M394.1 220.0h0M397.3 213.3h0M394.5 215.6h0M405.6 208.3h0M404.2 208.7h0M397.9 216.8h0M419.8 195.2h0M400.6 213.0h0M415.2 200.9h0M396.9 216.2h0M393.1 219.0h0M389.9 224.2h0M414.4 204.9h0M396.4 212.7h0M399.7 214.6h0M398.6 213.4h0M392.4 217.3h0M393.2 221.8h0M396.1 217.4h0M411.9 203.5h0M395.5 218.5h0M395.1 214.2h0M405.4 210.2h0M400.5 211.3h0M395.9 214.0h0M424.7 193.7h0M392.8 220.4h0M388.1 225.3h0M409.6 205.2h0M400.7 213.0h0M391.2 220.1h0M405.1 212.8h0M390.9 219.3h0M409.3 207.3h0M394.2 221.1h0M412.8 202.3h0M401.6 211.8h0M425.4 195.6h0M387.8 222.0h0M387.7 225.2h0M395.9 217.3h0M403.8 207.5h0M391.4 221.9h0M395.0 214.1h0M386.0 224.3h0M408.5 205.9h0M393.6 216.1h0M405.0 211.8h0M393.9 216.6h0M395.8 213.5h0M392.8 222.1h0M404.4 209.7h0M387.4 224.5h0M424.7 185.9h0M388.7 221.9h0M386.8 223.8h0M402.3 210.9h0M391.6 217.6h0M406.0 209.6h0M389.6 221.5h0M415.0 199.7h0M391.6 221.3h0M427.8 193.4h0M395.9 218.2h0M399.6 212.8h0M394.2 218.3h0M402.3 208.7h0M403.5 213.8h0M398.5 215.8h0M402.6 212.9h0M400.9 212.2h0M404.6 212.2h0M390.1 221.5h0M395.9 220.0h0M391.0 220.0h0M399.1 211.5h0M399.0 213.0h0M394.0 221.4h0M392.1 219.1h0M405.0 211.4h0M395.8 220.1h0M418.3 200.7h0M404.0 213.0h0M406.9 209.2h0M391.8 221.2h0M399.8 216.0h0M388.9 225.2h0M398.1 215.9h0M389.4 221.5h0M399.1 213.1h0M400.2 210.2h0M396.8 215.1h0M395.4 216.5h0M397.7 213.6h0M398.4 215.2h0M395.5 215.6h0M397.0 214.2h0M400.7 210.4h0M393.4 219.2h0M398.0 216.4h0M400.1 211.2h0M405.5 205.9h0M383.3 225.6h0M405.2 206.4h0M402.0 213.7h0M391.7 220.3h0M387.8 225.1h0M407.0 208.6h0M399.6 214.1h0M407.4 210.1h0M392.4 222.3h0M412.8 200.8h0M412.7 206.3h0M399.4 212.1h0M385.7 224.4h0M397.5 214.7h0M412.8 194.5h0M397.6 214.6h0M407.4 204.0h0M406.4 204.8h0M392.7 221.7h0M405.2 206.8h0M389.6 224.1h0M412.4 204.0h0M391.7 218.5h0M404.7 209.6h0M405.1 210.7h0M393.7 219.6h0M392.6 221.0h0M414.5 204.2h0M401.6 207.0h0M405.3 212.7h0M401.6 208.8h0M410.7 201.5h0M392.2 219.0h0M387.5 223.7h0M405.1 209.2h0M394.6 215.7h0M422.2 197.2h0M410.2 200.0h0M398.1 216.8h0M403.1 207.4h0M396.6 212.2h0M407.2 204.6h0M407.0 210.2h0M391.1 218.4h0M406.7 205.3h0M407.1 207.5h0M418.2 201.4h0M411.1 199.3h0M397.7 213.5h0M391.3 219.0h0M413.3 201.4h0M406.3 203.6h0M403.1 210.7h0M389.0 222.6h0M394.8 214.8h0M422.0 197.3h0M397.4 215.0h0M401.7 208.2h0M393.6 220.0h0M416.5 191.0h0M387.6 223.2h0M421.8 195.2h0M400.1 215.1h0M400.9 208.4h0M406.2 205.1h0M404.9 203.7h0M397.4 219.0h0M397.6 213.8h0M401.2 208.9h0M395.0 216.8h0M423.3 187.2h0M391.2 222.2h0M401.5 210.8h0M397.6 215.1h0M389.7 219.8h0M402.8 210.0h0M394.5 217.5h0M393.2 218.3h0M420.7 198.6h0M402.3 206.4h0M392.9 218.7h0M401.5 214.8h0M394.3 220.9h0M405.7 203.3h0M404.7 212.5h0M408.5 207.0h0M403.5 212.9h0M401.3 214.9h0M390.7 222.4h0M402.7 211.0h0M389.9 222.4h0M411.0 202.5h0M395.2 219.1h0M408.2 202.7h0M400.8 214.4h0M402.3 212.5h0M392.5 219.7h0M421.4 186.4h0M392.9 216.8h0M416.8 196.2h0M408.5 207.7h0M391.1 219.7h0M401.1 211.4h0M394.3 220.4h0M421.2 191.6h0M403.3 214.5h0M403.3 212.6h0M413.1 205.4h0M433.1 185.8h0M416.3 190.7h0M408.3 209.7h0M391.8 219.8h0M397.3 216.1h0M395.6 216.2h0M386.7 223.6h0M396.5 217.3h0M405.1 207.2h0M397.7 215.9h0M400.1 213.7h0M419.9 193.5h0M407.6 203.5h0M414.6 202.5h0M397.9 213.1h0M394.0 218.1h0M423.0 191.9h0M407.6 207.3h0M414.9 203.0h0M399.3 212.6h0M394.7 219.6h0M422.1 197.7h0M399.7 212.4h0M400.7 211.1h0M406.1 205.4h0M398.4 214.3h0M397.2 219.0h0M395.4 218.5h0M389.2 220.8h0M403.4 213.5h0M409.2 207.5h0M416.0 197.4h0M398.6 216.1h0M395.4 213.8h0M411.6 203.6h0M395.9 215.1h0M406.8 209.9h0M405.4 207.4h0M394.8 216.5h0M397.9 217.0h0M390.2 220.4h0M407.1 209.4h0M422.1 200.3h0M401.5 210.9h0M407.3 210.8h0M396.5 214.0h0M395.0 217.5h0M413.2 204.4h0M388.8 221.4h0M392.3 220.5h0M395.8 213.6h0M393.8 220.2h0M399.5 209.6h0M395.0 217.3h0M387.5 225.8h0M413.6 202.7h0M399.4 213.7h0M395.1 217.7h0M392.1 221.8h0M402.8 214.0h0M403.7 208.6h0M419.4 195.0h0M400.8 211.9h0M395.5 215.4h0M411.8 201.5h0M394.9 215.8h0M411.2 205.8h0M394.5 219.4h0M401.7 215.7h0M392.9 217.9h0M432.0 183.5h0M387.2 223.6h0M408.8 201.1h0M403.8 211.1h0M390.9 222.5h0M388.5 224.1h0M397.2 212.5h0M412.6 200.4h0M412.9 196.0h0M440.1 186.7h0M388.7 221.2h0M403.2 214.4h0M404.0 213.1h0M430.0 185.6h0M395.3 216.3h0M419.6 190.8h0M389.6 224.0h0M414.6 200.3h0M392.7 220.2h0M405.0 210.9h0M396.8 219.0h0M403.6 207.3h0M399.6 211.9h0M410.0 199.0h0M398.2 213.6h0M394.5 218.2h0M387.6 225.6h0M390.5 219.6h0M403.8 212.6h0M399.1 217.6h0M417.3 202.7h0M400.4 215.5h0M400.6 215.2h0M406.3 206.3h0M415.0 198.3h0M401.5 209.7h0M397.5 216.0h0M399.9 215.6h0M411.7 203.7h0M421.0 196.9h0M401.2 212.2h0M401.0 212.0h0M403.6 208.2h0M415.0 203.5h0M415.6 202.0h0M396.1 215.2h0M397.8 216.4h0M397.7 216.6h0M397.0 216.3h0M413.4 204.9h0M406.9 211.2h0M397.5 214.3h0M394.0 217.2h0M390.5 219.0h0M390.7 221.0h0M406.9 211.8h0M404.2 207.6h0M404.1 208.3h0M400.5 209.4h0M395.4 215.3h0M419.4 190.7h0M413.1 202.7h0M416.0 193.2h0M408.5 209.6h0M403.9 205.2h0M400.1 212.7h0M420.1 186.2h0M398.5 216.6h0M398.9 217.2h0M407.7 211.0h0M398.5 213.1h0M395.1 216.9h0M411.5 201.2h0M397.8 217.5h0M396.7 215.5h0M400.2 216.5h0M393.7 218.6h0M405.7 208.6h0M427.9 187.9h0M386.3 223.7h0M422.7 187.0h0M388.0 223.7h0M403.2 209.6h0M386.8 224.7h0M398.0 217.2h0M394.4 219.4h0M395.2 217.7h0M412.3 205.7h0M389.4 224.8h0M390.1 222.9h0M418.9 197.6h0M394.5 216.6h0M392.9 222.3h0M408.7 202.1h0M401.0 214.4h0M411.6 206.5h0M400.0 213.3h0M399.8 213.7h0M399.2 213.4h0M393.3 216.9h0M389.9 221.7h0M410.3 202.7h0M412.4 207.9h0M407.5 204.2h0M389.4 220.8h0M390.8 221.1h0M402.1 213.2h0M401.2 215.3h0M396.8 212.7h0M398.2 212.7h0M391.9 221.1h0M391.8 219.8h0M395.2 220.0h0M398.9 214.7h0M397.0 214.7h0M392.7 217.5h0M392.2 218.2h0M384.8 226.1h0M403.4 208.6h0M395.1 216.2h0M392.0 220.8h0M399.2 216.3h0M412.5 195.7h0M410.3 208.7h0M402.1 212.3h0M400.5 213.2h0M401.3 209.2h0M402.4 207.9h0M403.5 211.6h0M399.5 212.0h0M393.3 217.2h0M418.7 201.4h0M392.6 217.1h0M396.9 216.6h0M393.3 219.2h0M404.7 209.4h0M406.4 210.7h0M422.2 194.4h0M422.4 198.3h0M422.0 196.9h0M412.2 203.3h0M398.0 214.8h0M392.5 218.3h0M415.4 198.8h0M393.8 221.1h0M407.7 209.2h0M420.1 201.0h0M400.3 214.5h0M418.8 194.2h0M401.3 210.1h0M400.0 215.6h0M408.2 203.0h0M427.2 191.5h0M391.3 221.7h0M403.6 210.8h0M403.7 208.7h0M392.3 218.1h0M411.3 206.2h0M405.3 212.2h0M395.3 215.3h0M411.7 196.8h0M411.2 206.5h0M387.0 224.9h0M395.9 217.6h0M423.6 190.2h0M397.2 215.9h0M396.7 217.0h0M404.1 212.2h0M403.0 208.9h0M404.5 205.8h0M405.0 208.1h0M401.5 213.1h0M399.1 215.4h0M394.7 217.7h0M402.3 212.1h0M391.2 221.5h0M396.4 216.1h0M398.7 213.1h0M402.4 209.7h0M389.2 220.8h0M393.0 218.2h0M392.9 221.7h0M396.4 212.6h0M405.3 204.3h0M391.3 220.8h0M403.1 209.9h0M394.6 217.8h0M393.5 216.1h0M401.4 215.0h0M406.1 212.2h0M404.6 204.3h0M390.0 220.1h0M400.4 212.9h0M398.8 213.8h0M421.1 196.4h0M396.9 214.0h0M414.1 200.4h0M414.1 198.7h0M398.6 212.9h0M402.1 214.1h0M406.1 211.6h0M432.1 193.4h0M402.1 213.0h0M407.5 207.0h0M401.4 215.8h0M394.0 215.0h0M400.7 210.0h0M415.1 203.2h0M406.6 208.5h0M406.3 204.5h0M395.8 216.4h0M412.5 200.5h0M394.8 219.6h0M394.4 215.8h0M396.3 217.2h0M393.8 216.6h0M401.4 211.6h0M407.7 211.4h0M401.0 213.3h0M396.9 215.5h0M402.8 207.0h0M396.0 213.5h0M411.7 196.0h0M419.2 199.7h0M398.2 212.8h0M397.7 214.7h0M412.0 201.8h0M398.6 213.8h0M417.7 197.4h0M406.3 207.2h0M393.6 215.7h0M428.2 192.2h0M396.0 216.2h0M394.0 217.4h0M394.5 220.0h0M400.6 212.7h0M400.9 213.2h0M398.7 217.7h0M394.5 218.7h0M414.9 197.3h0M395.2 217.2h0M396.4 215.3h0M403.9 211.6h0M406.1 206.6h0M399.5 214.2h0M409.0 205.7h0M417.9 196.0h0M392.0 217.7h0M392.0 219.3h0M414.7 202.6h0M405.0 210.4h0M410.3 209.1h0M391.2 219.8h0M416.4 200.2h0M400.0 209.3h0M395.1 217.3h0M396.8 218.2h0M397.5 218.4h0M427.8 196.5h0M404.5 206.9h0M417.9 195.1h0M420.1 188.3h0M405.2 207.6h0M393.1 218.8h0M406.6 207.7h0M401.8 212.0h0M398.6 213.0h0M402.4 210.8h0M393.9 219.3h0M409.2 203.3h0M388.7 221.9h0M384.4 227.9h0M423.9 191.3h0M424.0 196.5h0M396.3 214.7h0M392.8 216.8h0M400.4 211.6h0M399.7 211.1h0M391.5 219.0h0M399.3 213.0h0M389.9 220.6h0M397.8 212.6h0M413.5 195.0h0M407.4 211.3h0M402.2 213.8h0M397.5 216.5h0M427.6 182.1h0M386.3 224.3h0M397.1 215.7h0M399.5 215.9h0M397.9 215.3h0M418.5 200.1h0M417.2 197.5h0M397.3 213.1h0M392.0 219.0h0M393.6 221.2h0M418.6 194.7h0M392.2 217.7h0M402.2 214.4h0M396.8 215.5h0M390.5 221.1h0M393.3 218.2h0M417.9 193.0h0M408.4 200.5h0M399.7 212.9h0M427.2 184.8h0M391.6 219.2h0M397.1 215.9h0M411.8 200.5h0M397.9 215.5h0M411.9 203.0h0M418.9 191.6h0M409.3 203.7h0M403.6 206.0h0M404.3 209.8h0M394.0 217.4h0M393.8 216.9h0M419.7 202.4h0M405.9 209.0h0M409.1 207.2h0M396.4 214.3h0M416.5 195.7h0M397.2 216.2h0M408.2 207.0h0M401.9 212.2h0M412.1 200.9h0M410.0 207.3h0M402.3 212.5h0" stroke="#1414ff" stroke-width="1.7" stroke-linecap="round" fill="none"/>
<path d="M415.8 209.8h0M416.6 208.6h0M417.7 210.1h0M419.0 208.9h0M425.3 208.8h0M419.0 216.4h0M418.3 223.1h0M383.3 220.7h0M383.9 220.0h0M384.5 221.8h0M382.9 219.3h0M385.0 221.2h0M385.5 218.6h0" stroke="#9b30d9" stroke-width="1.7" stroke-linecap="round" fill="none"/>
<path d="M396.4 193.0h0M405.1 226.3h0" stroke="#ff8c1a" stroke-width="1.7" stroke-linecap="round" fill="none"/>
<text x="381.8" y="192.8" fill="#f03a3a" font-size="5.0" text-anchor="middle" stroke="#f03a3a" stroke-width="0.25">E</text>
<text x="395.3" y="192.8" fill="#3c3cf0" font-size="5.0" text-anchor="middle" stroke="#3c3cf0" stroke-width="0.25">C</text>
<text x="395.3" y="207.3" fill="#3c3cf0" font-size="5.0" text-anchor="middle" stroke="#3c3cf0" stroke-width="0.25">B</text>
<text x="381.8" y="217.5" fill="#f03a3a" font-size="5.0" text-anchor="middle" stroke="#f03a3a" stroke-width="0.25">D</text>
<text x="431.6" y="203.0" fill="#3c3cf0" font-size="5.0" text-anchor="middle" stroke="#3c3cf0" stroke-width="0.25">B</text>
<text x="431.6" y="217.5" fill="#f03a3a" font-size="5.0" text-anchor="middle" stroke="#f03a3a" stroke-width="0.25">D</text>
<text x="431.6" y="231.4" fill="#f03a3a" font-size="5.0" text-anchor="middle" stroke="#f03a3a" stroke-width="0.25">E</text>
<text x="402.4" y="232.9" fill="#3c3cf0" font-size="5.0" text-anchor="middle" stroke="#3c3cf0" stroke-width="0.25">C</text>
<text x="375.5" y="225.5" font-size="3.2" text-anchor="end" fill="#111" stroke="#111" stroke-width="0.08">70</text>
<path d="M376.0 224.39H377.1" stroke="#666" stroke-width="0.4"/>
<text x="375.5" y="221.1" font-size="3.2" text-anchor="end" fill="#111" stroke="#111" stroke-width="0.08">100</text>
<path d="M376.0 220.02H377.1" stroke="#666" stroke-width="0.4"/>
<text x="375.5" y="213.8" font-size="3.2" text-anchor="end" fill="#111" stroke="#111" stroke-width="0.08">150</text>
<path d="M376.0 212.73H377.1" stroke="#666" stroke-width="0.4"/>
<text x="375.5" y="209.5" font-size="3.2" text-anchor="end" fill="#111" stroke="#111" stroke-width="0.08">180</text>
<path d="M376.0 208.36H377.1" stroke="#666" stroke-width="0.4"/>
<text x="375.5" y="200.7" font-size="3.2" text-anchor="end" fill="#111" stroke="#111" stroke-width="0.08">240</text>
<path d="M376.0 199.61H377.1" stroke="#666" stroke-width="0.4"/>
<text x="375.5" y="192.0" font-size="3.2" text-anchor="end" fill="#111" stroke="#111" stroke-width="0.08">300</text>
<path d="M376.0 190.86H377.1" stroke="#666" stroke-width="0.4"/>
<text x="375.5" y="184.7" font-size="3.2" text-anchor="end" fill="#111" stroke="#111" stroke-width="0.08">350</text>
<path d="M376.0 183.57H377.1" stroke="#666" stroke-width="0.4"/>
<text x="375.5" y="177.4" font-size="3.2" text-anchor="end" fill="#111" stroke="#111" stroke-width="0.08">400</text>
<path d="M376.0 176.28H377.1" stroke="#666" stroke-width="0.4"/>
<text x="375.5" y="170.1" font-size="3.2" text-anchor="end" fill="#111" stroke="#111" stroke-width="0.08">450</text>
<path d="M376.0 168.99H377.1" stroke="#666" stroke-width="0.4"/>
<text x="375.5" y="162.8" font-size="3.2" text-anchor="end" fill="#111" stroke="#111" stroke-width="0.08">500</text>
<path d="M376.0 161.70H377.1" stroke="#666" stroke-width="0.4"/>
<text x="375.5" y="155.5" font-size="3.2" text-anchor="end" fill="#111" stroke="#111" stroke-width="0.08">550</text>
<path d="M376.0 154.41H377.1" stroke="#666" stroke-width="0.4"/>
<text x="375.5" y="148.2" font-size="3.2" text-anchor="end" fill="#111" stroke="#111" stroke-width="0.08">600</text>
<path d="M376.0 147.12H377.1" stroke="#666" stroke-width="0.4"/>
<text x="375.5" y="140.9" font-size="3.2" text-anchor="end" fill="#111" stroke="#111" stroke-width="0.08">650</text>
<path d="M376.0 139.83H377.1" stroke="#666" stroke-width="0.4"/>
<text x="375.5" y="133.6" font-size="3.2" text-anchor="end" fill="#111" stroke="#111" stroke-width="0.08">700</text>
<path d="M376.0 132.54H377.1" stroke="#666" stroke-width="0.4"/>
<text x="375.5" y="126.3" font-size="3.2" text-anchor="end" fill="#111" stroke="#111" stroke-width="0.08">750</text>
<path d="M376.0 125.25H377.1" stroke="#666" stroke-width="0.4"/>
<text x="375.5" y="119.1" font-size="3.2" text-anchor="end" fill="#111" stroke="#111" stroke-width="0.08">800</text>
<path d="M376.0 117.96H377.1" stroke="#666" stroke-width="0.4"/>
<text x="387.4" y="237.5" font-size="3.2" text-anchor="middle" fill="#111" stroke="#111" stroke-width="0.08">70</text>
<text x="392.1" y="237.5" font-size="3.2" text-anchor="middle" fill="#111" stroke="#111" stroke-width="0.08">100</text>
<text x="400.0" y="237.5" font-size="3.2" text-anchor="middle" fill="#111" stroke="#111" stroke-width="0.08">150</text>
<text x="404.7" y="237.5" font-size="3.2" text-anchor="middle" fill="#111" stroke="#111" stroke-width="0.08">180</text>
<text x="414.2" y="237.5" font-size="3.2" text-anchor="middle" fill="#111" stroke="#111" stroke-width="0.08">240</text>
<text x="423.7" y="237.5" font-size="3.2" text-anchor="middle" fill="#111" stroke="#111" stroke-width="0.08">300</text>
<text x="431.6" y="237.5" font-size="3.2" text-anchor="middle" fill="#111" stroke="#111" stroke-width="0.08">350</text>
<text x="439.5" y="237.5" font-size="3.2" text-anchor="middle" fill="#111" stroke="#111" stroke-width="0.08">400</text>
<text x="447.4" y="237.5" font-size="3.2" text-anchor="middle" fill="#111" stroke="#111" stroke-width="0.08">450</text>
<text x="455.3" y="237.5" font-size="3.2" text-anchor="middle" fill="#111" stroke="#111" stroke-width="0.08">500</text>
<text x="463.2" y="237.5" font-size="3.2" text-anchor="middle" fill="#111" stroke="#111" stroke-width="0.08">550</text>
<text x="471.1" y="237.5" font-size="3.2" text-anchor="middle" fill="#111" stroke="#111" stroke-width="0.08">600</text>
<text x="479.0" y="237.5" font-size="3.2" text-anchor="middle" fill="#111" stroke="#111" stroke-width="0.08">650</text>
<text x="429.3" y="240.8" font-size="3.4" text-anchor="middle" fill="#111" stroke="#111" stroke-width="0.08">Lab Glucose</text>
<text transform="translate(368.4 176.0) rotate(-90)" font-size="2.7" text-anchor="middle" fill="#111" stroke="#111" stroke-width="0.08">CGM Glucose</text>
</svg></body></html>
